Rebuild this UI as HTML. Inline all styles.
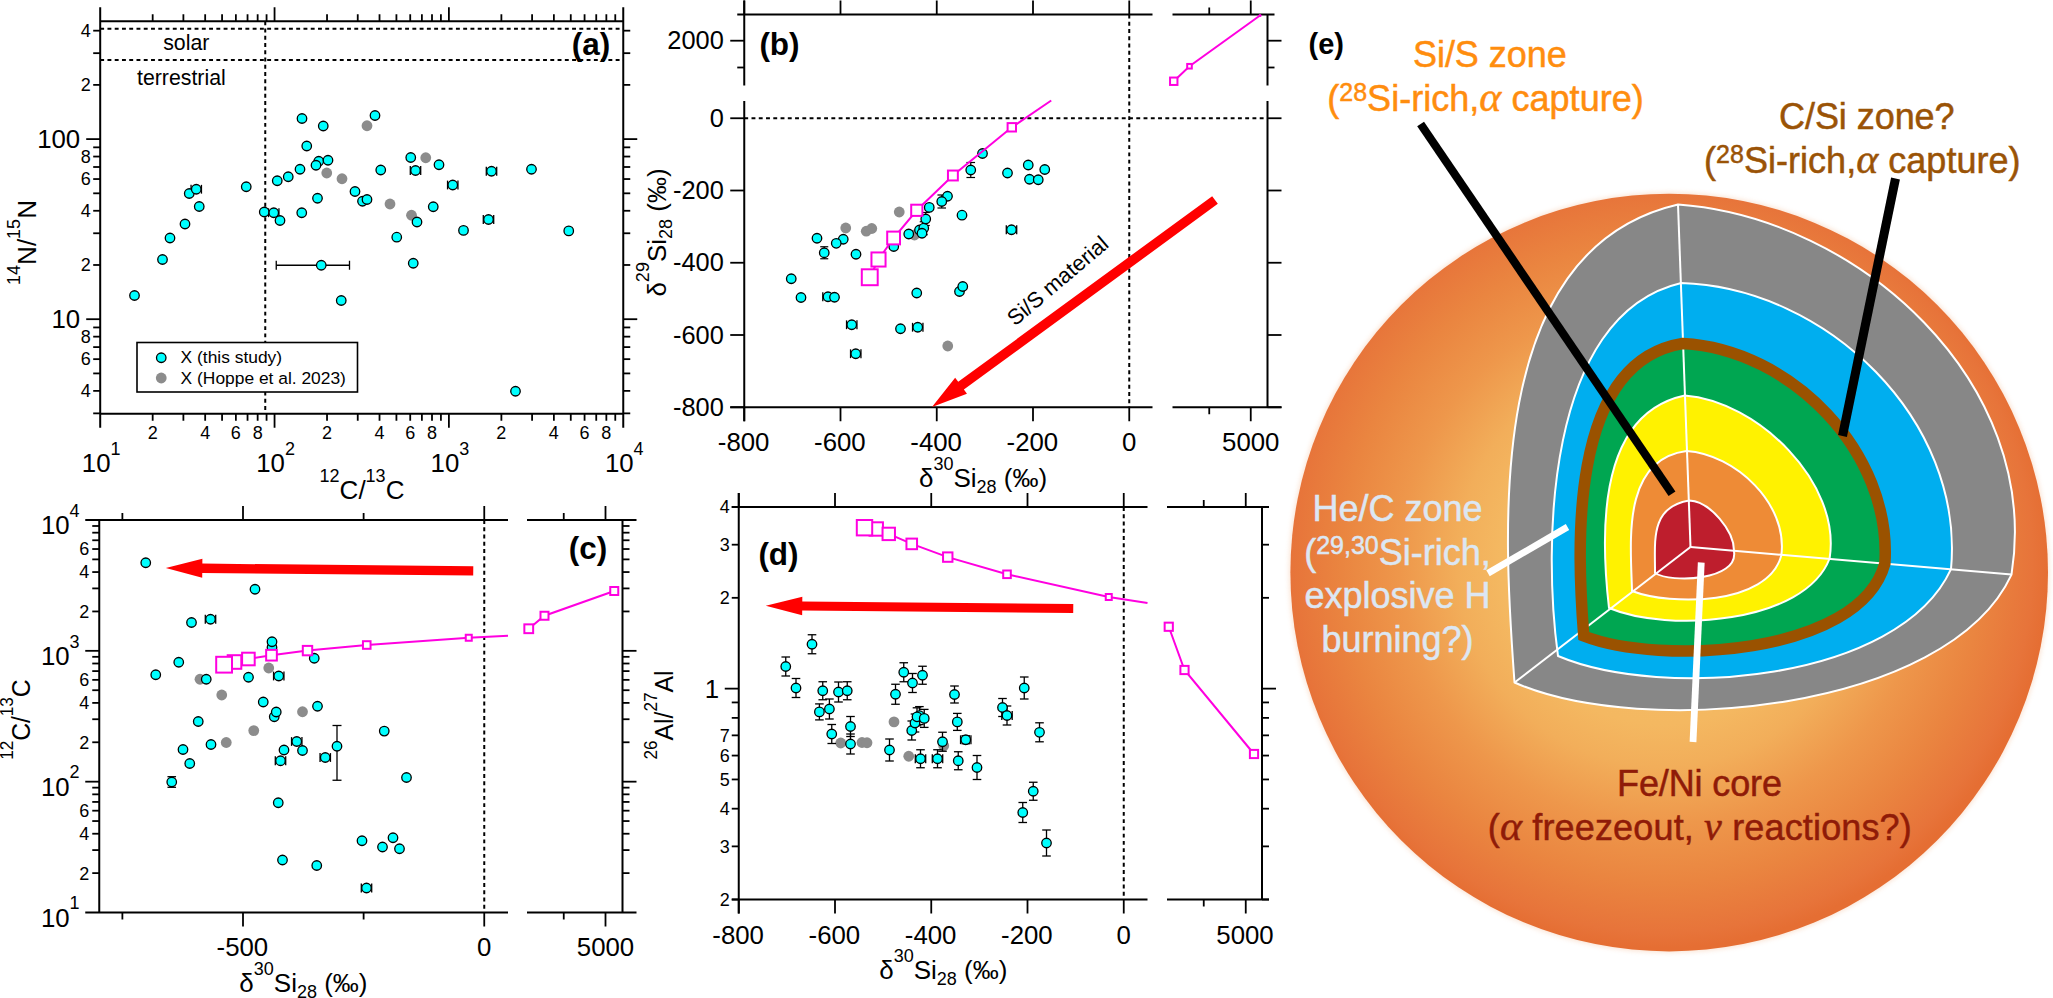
<!DOCTYPE html>
<html lang="en"><head><meta charset="utf-8"><title>Figure</title>
<style>html,body{margin:0;padding:0;background:#fff}svg{display:block}</style></head>
<body>
<svg width="2053" height="998" viewBox="0 0 2053 998" font-family='"Liberation Sans", Arial, Helvetica, sans-serif' shape-rendering="geometricPrecision">
<rect width="2053" height="998" fill="#fff"/>
<line x1="100.2" y1="28.75" x2="623.25" y2="28.75" stroke="#000" stroke-width="2" stroke-dasharray="3.9 3.36"/>
<line x1="100.2" y1="60" x2="623.25" y2="60" stroke="#000" stroke-width="2" stroke-dasharray="3.9 3.36"/>
<line x1="265.25" y1="21.25" x2="265.25" y2="413.75" stroke="#000" stroke-width="2" stroke-dasharray="3.9 3.36"/>
<line x1="100.2" y1="7.25" x2="100.2" y2="427.75" stroke="#000" stroke-width="2"/>
<line x1="623.25" y1="7.25" x2="623.25" y2="427.75" stroke="#000" stroke-width="2"/>
<line x1="100.2" y1="21.25" x2="623.25" y2="21.25" stroke="#000" stroke-width="2"/>
<line x1="100.2" y1="413.75" x2="623.25" y2="413.75" stroke="#000" stroke-width="2"/>
<line x1="152.68" y1="14.25" x2="152.68" y2="21.25" stroke="#000" stroke-width="1.8"/>
<line x1="152.68" y1="413.75" x2="152.68" y2="420.75" stroke="#000" stroke-width="1.8"/>
<text x="152.68" y="438.7" font-size="18" text-anchor="middle">2</text>
<line x1="183.39" y1="14.25" x2="183.39" y2="21.25" stroke="#000" stroke-width="1.8"/>
<line x1="183.39" y1="413.75" x2="183.39" y2="420.75" stroke="#000" stroke-width="1.8"/>
<line x1="205.17" y1="14.25" x2="205.17" y2="21.25" stroke="#000" stroke-width="1.8"/>
<line x1="205.17" y1="413.75" x2="205.17" y2="420.75" stroke="#000" stroke-width="1.8"/>
<text x="205.17" y="438.7" font-size="18" text-anchor="middle">4</text>
<line x1="222.07" y1="14.25" x2="222.07" y2="21.25" stroke="#000" stroke-width="1.8"/>
<line x1="222.07" y1="413.75" x2="222.07" y2="420.75" stroke="#000" stroke-width="1.8"/>
<line x1="235.87" y1="14.25" x2="235.87" y2="21.25" stroke="#000" stroke-width="1.8"/>
<line x1="235.87" y1="413.75" x2="235.87" y2="420.75" stroke="#000" stroke-width="1.8"/>
<text x="235.87" y="438.7" font-size="18" text-anchor="middle">6</text>
<line x1="247.54" y1="14.25" x2="247.54" y2="21.25" stroke="#000" stroke-width="1.8"/>
<line x1="247.54" y1="413.75" x2="247.54" y2="420.75" stroke="#000" stroke-width="1.8"/>
<line x1="257.65" y1="14.25" x2="257.65" y2="21.25" stroke="#000" stroke-width="1.8"/>
<line x1="257.65" y1="413.75" x2="257.65" y2="420.75" stroke="#000" stroke-width="1.8"/>
<text x="257.65" y="438.7" font-size="18" text-anchor="middle">8</text>
<line x1="266.57" y1="14.25" x2="266.57" y2="21.25" stroke="#000" stroke-width="1.8"/>
<line x1="266.57" y1="413.75" x2="266.57" y2="420.75" stroke="#000" stroke-width="1.8"/>
<line x1="274.55" y1="7.25" x2="274.55" y2="21.25" stroke="#000" stroke-width="1.8"/>
<line x1="274.55" y1="413.75" x2="274.55" y2="427.75" stroke="#000" stroke-width="1.8"/>
<line x1="327.03" y1="14.25" x2="327.03" y2="21.25" stroke="#000" stroke-width="1.8"/>
<line x1="327.03" y1="413.75" x2="327.03" y2="420.75" stroke="#000" stroke-width="1.8"/>
<text x="327.03" y="438.7" font-size="18" text-anchor="middle">2</text>
<line x1="357.74" y1="14.25" x2="357.74" y2="21.25" stroke="#000" stroke-width="1.8"/>
<line x1="357.74" y1="413.75" x2="357.74" y2="420.75" stroke="#000" stroke-width="1.8"/>
<line x1="379.52" y1="14.25" x2="379.52" y2="21.25" stroke="#000" stroke-width="1.8"/>
<line x1="379.52" y1="413.75" x2="379.52" y2="420.75" stroke="#000" stroke-width="1.8"/>
<text x="379.52" y="438.7" font-size="18" text-anchor="middle">4</text>
<line x1="396.42" y1="14.25" x2="396.42" y2="21.25" stroke="#000" stroke-width="1.8"/>
<line x1="396.42" y1="413.75" x2="396.42" y2="420.75" stroke="#000" stroke-width="1.8"/>
<line x1="410.22" y1="14.25" x2="410.22" y2="21.25" stroke="#000" stroke-width="1.8"/>
<line x1="410.22" y1="413.75" x2="410.22" y2="420.75" stroke="#000" stroke-width="1.8"/>
<text x="410.22" y="438.7" font-size="18" text-anchor="middle">6</text>
<line x1="421.89" y1="14.25" x2="421.89" y2="21.25" stroke="#000" stroke-width="1.8"/>
<line x1="421.89" y1="413.75" x2="421.89" y2="420.75" stroke="#000" stroke-width="1.8"/>
<line x1="432" y1="14.25" x2="432" y2="21.25" stroke="#000" stroke-width="1.8"/>
<line x1="432" y1="413.75" x2="432" y2="420.75" stroke="#000" stroke-width="1.8"/>
<text x="432" y="438.7" font-size="18" text-anchor="middle">8</text>
<line x1="440.92" y1="14.25" x2="440.92" y2="21.25" stroke="#000" stroke-width="1.8"/>
<line x1="440.92" y1="413.75" x2="440.92" y2="420.75" stroke="#000" stroke-width="1.8"/>
<line x1="448.9" y1="7.25" x2="448.9" y2="21.25" stroke="#000" stroke-width="1.8"/>
<line x1="448.9" y1="413.75" x2="448.9" y2="427.75" stroke="#000" stroke-width="1.8"/>
<line x1="501.38" y1="14.25" x2="501.38" y2="21.25" stroke="#000" stroke-width="1.8"/>
<line x1="501.38" y1="413.75" x2="501.38" y2="420.75" stroke="#000" stroke-width="1.8"/>
<text x="501.38" y="438.7" font-size="18" text-anchor="middle">2</text>
<line x1="532.09" y1="14.25" x2="532.09" y2="21.25" stroke="#000" stroke-width="1.8"/>
<line x1="532.09" y1="413.75" x2="532.09" y2="420.75" stroke="#000" stroke-width="1.8"/>
<line x1="553.87" y1="14.25" x2="553.87" y2="21.25" stroke="#000" stroke-width="1.8"/>
<line x1="553.87" y1="413.75" x2="553.87" y2="420.75" stroke="#000" stroke-width="1.8"/>
<text x="553.87" y="438.7" font-size="18" text-anchor="middle">4</text>
<line x1="570.77" y1="14.25" x2="570.77" y2="21.25" stroke="#000" stroke-width="1.8"/>
<line x1="570.77" y1="413.75" x2="570.77" y2="420.75" stroke="#000" stroke-width="1.8"/>
<line x1="584.57" y1="14.25" x2="584.57" y2="21.25" stroke="#000" stroke-width="1.8"/>
<line x1="584.57" y1="413.75" x2="584.57" y2="420.75" stroke="#000" stroke-width="1.8"/>
<text x="584.57" y="438.7" font-size="18" text-anchor="middle">6</text>
<line x1="596.24" y1="14.25" x2="596.24" y2="21.25" stroke="#000" stroke-width="1.8"/>
<line x1="596.24" y1="413.75" x2="596.24" y2="420.75" stroke="#000" stroke-width="1.8"/>
<line x1="606.35" y1="14.25" x2="606.35" y2="21.25" stroke="#000" stroke-width="1.8"/>
<line x1="606.35" y1="413.75" x2="606.35" y2="420.75" stroke="#000" stroke-width="1.8"/>
<text x="606.35" y="438.7" font-size="18" text-anchor="middle">8</text>
<line x1="615.27" y1="14.25" x2="615.27" y2="21.25" stroke="#000" stroke-width="1.8"/>
<line x1="615.27" y1="413.75" x2="615.27" y2="420.75" stroke="#000" stroke-width="1.8"/>
<text x="101.2" y="471.8" font-size="25.8" text-anchor="middle">10<tspan font-size="18" dy="-17.2">1</tspan><tspan dy="17.2" font-size="0.1">&#8203;</tspan></text>
<text x="275.55" y="471.8" font-size="25.8" text-anchor="middle">10<tspan font-size="18" dy="-17.2">2</tspan><tspan dy="17.2" font-size="0.1">&#8203;</tspan></text>
<text x="449.9" y="471.8" font-size="25.8" text-anchor="middle">10<tspan font-size="18" dy="-17.2">3</tspan><tspan dy="17.2" font-size="0.1">&#8203;</tspan></text>
<text x="624.25" y="471.8" font-size="25.8" text-anchor="middle">10<tspan font-size="18" dy="-17.2">4</tspan><tspan dy="17.2" font-size="0.1">&#8203;</tspan></text>
<line x1="93.2" y1="413.37" x2="100.2" y2="413.37" stroke="#000" stroke-width="1.8"/>
<line x1="623.25" y1="413.37" x2="630.25" y2="413.37" stroke="#000" stroke-width="1.8"/>
<line x1="93.2" y1="390.87" x2="100.2" y2="390.87" stroke="#000" stroke-width="1.8"/>
<line x1="623.25" y1="390.87" x2="630.25" y2="390.87" stroke="#000" stroke-width="1.8"/>
<text x="90.8" y="397.07" font-size="18" text-anchor="end">4</text>
<line x1="93.2" y1="373.42" x2="100.2" y2="373.42" stroke="#000" stroke-width="1.8"/>
<line x1="623.25" y1="373.42" x2="630.25" y2="373.42" stroke="#000" stroke-width="1.8"/>
<line x1="93.2" y1="359.15" x2="100.2" y2="359.15" stroke="#000" stroke-width="1.8"/>
<line x1="623.25" y1="359.15" x2="630.25" y2="359.15" stroke="#000" stroke-width="1.8"/>
<text x="90.8" y="365.35" font-size="18" text-anchor="end">6</text>
<line x1="93.2" y1="347.1" x2="100.2" y2="347.1" stroke="#000" stroke-width="1.8"/>
<line x1="623.25" y1="347.1" x2="630.25" y2="347.1" stroke="#000" stroke-width="1.8"/>
<line x1="93.2" y1="336.65" x2="100.2" y2="336.65" stroke="#000" stroke-width="1.8"/>
<line x1="623.25" y1="336.65" x2="630.25" y2="336.65" stroke="#000" stroke-width="1.8"/>
<text x="90.8" y="342.85" font-size="18" text-anchor="end">8</text>
<line x1="93.2" y1="327.44" x2="100.2" y2="327.44" stroke="#000" stroke-width="1.8"/>
<line x1="623.25" y1="327.44" x2="630.25" y2="327.44" stroke="#000" stroke-width="1.8"/>
<line x1="86.2" y1="319.2" x2="100.2" y2="319.2" stroke="#000" stroke-width="1.8"/>
<line x1="623.25" y1="319.2" x2="637.25" y2="319.2" stroke="#000" stroke-width="1.8"/>
<text x="80.2" y="327.9" font-size="25.8" text-anchor="end">10</text>
<line x1="93.2" y1="264.98" x2="100.2" y2="264.98" stroke="#000" stroke-width="1.8"/>
<line x1="623.25" y1="264.98" x2="630.25" y2="264.98" stroke="#000" stroke-width="1.8"/>
<text x="90.8" y="271.18" font-size="18" text-anchor="end">2</text>
<line x1="93.2" y1="233.27" x2="100.2" y2="233.27" stroke="#000" stroke-width="1.8"/>
<line x1="623.25" y1="233.27" x2="630.25" y2="233.27" stroke="#000" stroke-width="1.8"/>
<line x1="93.2" y1="210.77" x2="100.2" y2="210.77" stroke="#000" stroke-width="1.8"/>
<line x1="623.25" y1="210.77" x2="630.25" y2="210.77" stroke="#000" stroke-width="1.8"/>
<text x="90.8" y="216.97" font-size="18" text-anchor="end">4</text>
<line x1="93.2" y1="193.32" x2="100.2" y2="193.32" stroke="#000" stroke-width="1.8"/>
<line x1="623.25" y1="193.32" x2="630.25" y2="193.32" stroke="#000" stroke-width="1.8"/>
<line x1="93.2" y1="179.05" x2="100.2" y2="179.05" stroke="#000" stroke-width="1.8"/>
<line x1="623.25" y1="179.05" x2="630.25" y2="179.05" stroke="#000" stroke-width="1.8"/>
<text x="90.8" y="185.25" font-size="18" text-anchor="end">6</text>
<line x1="93.2" y1="167" x2="100.2" y2="167" stroke="#000" stroke-width="1.8"/>
<line x1="623.25" y1="167" x2="630.25" y2="167" stroke="#000" stroke-width="1.8"/>
<line x1="93.2" y1="156.55" x2="100.2" y2="156.55" stroke="#000" stroke-width="1.8"/>
<line x1="623.25" y1="156.55" x2="630.25" y2="156.55" stroke="#000" stroke-width="1.8"/>
<text x="90.8" y="162.75" font-size="18" text-anchor="end">8</text>
<line x1="93.2" y1="147.34" x2="100.2" y2="147.34" stroke="#000" stroke-width="1.8"/>
<line x1="623.25" y1="147.34" x2="630.25" y2="147.34" stroke="#000" stroke-width="1.8"/>
<line x1="86.2" y1="139.1" x2="100.2" y2="139.1" stroke="#000" stroke-width="1.8"/>
<line x1="623.25" y1="139.1" x2="637.25" y2="139.1" stroke="#000" stroke-width="1.8"/>
<text x="80.2" y="147.8" font-size="25.8" text-anchor="end">100</text>
<line x1="93.2" y1="84.88" x2="100.2" y2="84.88" stroke="#000" stroke-width="1.8"/>
<line x1="623.25" y1="84.88" x2="630.25" y2="84.88" stroke="#000" stroke-width="1.8"/>
<text x="90.8" y="91.08" font-size="18" text-anchor="end">2</text>
<line x1="93.2" y1="53.17" x2="100.2" y2="53.17" stroke="#000" stroke-width="1.8"/>
<line x1="623.25" y1="53.17" x2="630.25" y2="53.17" stroke="#000" stroke-width="1.8"/>
<line x1="93.2" y1="30.67" x2="100.2" y2="30.67" stroke="#000" stroke-width="1.8"/>
<line x1="623.25" y1="30.67" x2="630.25" y2="30.67" stroke="#000" stroke-width="1.8"/>
<text x="90.8" y="36.87" font-size="18" text-anchor="end">4</text>
<text x="36" y="242.5" font-size="26" text-anchor="middle" transform="rotate(-90 36 242.5)"><tspan font-size="18" dy="-16.5">14</tspan><tspan dy="16.5" font-size="0.1">&#8203;</tspan>N/<tspan font-size="18" dy="-16.5">15</tspan><tspan dy="16.5" font-size="0.1">&#8203;</tspan>N</text>
<text x="362" y="499" font-size="26" text-anchor="middle"><tspan font-size="18" dy="-17">12</tspan><tspan dy="17" font-size="0.1">&#8203;</tspan>C/<tspan font-size="18" dy="-17">13</tspan><tspan dy="17" font-size="0.1">&#8203;</tspan>C</text>
<text x="186.3" y="49.8" font-size="21.3" text-anchor="middle">solar</text>
<text x="181.4" y="85" font-size="21.3" text-anchor="middle">terrestrial</text>
<text x="591" y="55.2" font-size="31.5" text-anchor="middle" font-weight="bold">(a)</text>
<circle cx="367" cy="125.75" r="5.4" fill="#8C8C8C"/>
<circle cx="425.75" cy="157.75" r="5.4" fill="#8C8C8C"/>
<circle cx="326.75" cy="173" r="5.4" fill="#8C8C8C"/>
<circle cx="342" cy="178.75" r="5.4" fill="#8C8C8C"/>
<circle cx="390" cy="204" r="5.4" fill="#8C8C8C"/>
<circle cx="411.5" cy="215.25" r="5.4" fill="#8C8C8C"/>
<line x1="276.25" y1="265.25" x2="349.5" y2="265.25" stroke="#000" stroke-width="1.3"/>
<line x1="276.25" y1="260.75" x2="276.25" y2="269.75" stroke="#000" stroke-width="1.3"/>
<line x1="349.5" y1="260.75" x2="349.5" y2="269.75" stroke="#000" stroke-width="1.3"/>
<line x1="191.05" y1="189.25" x2="201.45" y2="189.25" stroke="#000" stroke-width="1.3"/>
<line x1="191.05" y1="184.85" x2="191.05" y2="193.65" stroke="#000" stroke-width="1.3"/>
<line x1="201.45" y1="184.85" x2="201.45" y2="193.65" stroke="#000" stroke-width="1.3"/>
<line x1="268.55" y1="212.75" x2="278.95" y2="212.75" stroke="#000" stroke-width="1.3"/>
<line x1="268.55" y1="208.35" x2="268.55" y2="217.15" stroke="#000" stroke-width="1.3"/>
<line x1="278.95" y1="208.35" x2="278.95" y2="217.15" stroke="#000" stroke-width="1.3"/>
<line x1="410.3" y1="170.5" x2="420.7" y2="170.5" stroke="#000" stroke-width="1.3"/>
<line x1="410.3" y1="166.1" x2="410.3" y2="174.9" stroke="#000" stroke-width="1.3"/>
<line x1="420.7" y1="166.1" x2="420.7" y2="174.9" stroke="#000" stroke-width="1.3"/>
<line x1="447.55" y1="185" x2="457.95" y2="185" stroke="#000" stroke-width="1.3"/>
<line x1="447.55" y1="180.6" x2="447.55" y2="189.4" stroke="#000" stroke-width="1.3"/>
<line x1="457.95" y1="180.6" x2="457.95" y2="189.4" stroke="#000" stroke-width="1.3"/>
<line x1="483.3" y1="219.5" x2="493.7" y2="219.5" stroke="#000" stroke-width="1.3"/>
<line x1="483.3" y1="215.1" x2="483.3" y2="223.9" stroke="#000" stroke-width="1.3"/>
<line x1="493.7" y1="215.1" x2="493.7" y2="223.9" stroke="#000" stroke-width="1.3"/>
<line x1="486.3" y1="171.25" x2="496.7" y2="171.25" stroke="#000" stroke-width="1.3"/>
<line x1="486.3" y1="166.85" x2="486.3" y2="175.65" stroke="#000" stroke-width="1.3"/>
<line x1="496.7" y1="166.85" x2="496.7" y2="175.65" stroke="#000" stroke-width="1.3"/>
<circle cx="170" cy="238" r="4.75" fill="#00FFFF" stroke="#000" stroke-width="1.3"/>
<circle cx="185" cy="224" r="4.75" fill="#00FFFF" stroke="#000" stroke-width="1.3"/>
<circle cx="199.25" cy="206.5" r="4.75" fill="#00FFFF" stroke="#000" stroke-width="1.3"/>
<circle cx="189.25" cy="193.5" r="4.75" fill="#00FFFF" stroke="#000" stroke-width="1.3"/>
<circle cx="196.25" cy="189.25" r="4.75" fill="#00FFFF" stroke="#000" stroke-width="1.3"/>
<circle cx="246.25" cy="186.75" r="4.75" fill="#00FFFF" stroke="#000" stroke-width="1.3"/>
<circle cx="264.25" cy="212" r="4.75" fill="#00FFFF" stroke="#000" stroke-width="1.3"/>
<circle cx="273.75" cy="212.75" r="4.75" fill="#00FFFF" stroke="#000" stroke-width="1.3"/>
<circle cx="280" cy="220.5" r="4.75" fill="#00FFFF" stroke="#000" stroke-width="1.3"/>
<circle cx="277.25" cy="180.75" r="4.75" fill="#00FFFF" stroke="#000" stroke-width="1.3"/>
<circle cx="288.25" cy="176.75" r="4.75" fill="#00FFFF" stroke="#000" stroke-width="1.3"/>
<circle cx="300" cy="169.25" r="4.75" fill="#00FFFF" stroke="#000" stroke-width="1.3"/>
<circle cx="301.75" cy="212.75" r="4.75" fill="#00FFFF" stroke="#000" stroke-width="1.3"/>
<circle cx="317.5" cy="198.25" r="4.75" fill="#00FFFF" stroke="#000" stroke-width="1.3"/>
<circle cx="318.75" cy="161.25" r="4.75" fill="#00FFFF" stroke="#000" stroke-width="1.3"/>
<circle cx="316" cy="165.25" r="4.75" fill="#00FFFF" stroke="#000" stroke-width="1.3"/>
<circle cx="328" cy="160.25" r="4.75" fill="#00FFFF" stroke="#000" stroke-width="1.3"/>
<circle cx="306.75" cy="146" r="4.75" fill="#00FFFF" stroke="#000" stroke-width="1.3"/>
<circle cx="302" cy="118.5" r="4.75" fill="#00FFFF" stroke="#000" stroke-width="1.3"/>
<circle cx="323.25" cy="126" r="4.75" fill="#00FFFF" stroke="#000" stroke-width="1.3"/>
<circle cx="375" cy="115.5" r="4.75" fill="#00FFFF" stroke="#000" stroke-width="1.3"/>
<circle cx="380.75" cy="170" r="4.75" fill="#00FFFF" stroke="#000" stroke-width="1.3"/>
<circle cx="355" cy="191.5" r="4.75" fill="#00FFFF" stroke="#000" stroke-width="1.3"/>
<circle cx="362.5" cy="201.25" r="4.75" fill="#00FFFF" stroke="#000" stroke-width="1.3"/>
<circle cx="367" cy="199.5" r="4.75" fill="#00FFFF" stroke="#000" stroke-width="1.3"/>
<circle cx="410.75" cy="157.5" r="4.75" fill="#00FFFF" stroke="#000" stroke-width="1.3"/>
<circle cx="415.5" cy="170.5" r="4.75" fill="#00FFFF" stroke="#000" stroke-width="1.3"/>
<circle cx="439" cy="164.75" r="4.75" fill="#00FFFF" stroke="#000" stroke-width="1.3"/>
<circle cx="433.25" cy="206.75" r="4.75" fill="#00FFFF" stroke="#000" stroke-width="1.3"/>
<circle cx="417" cy="222" r="4.75" fill="#00FFFF" stroke="#000" stroke-width="1.3"/>
<circle cx="396.75" cy="237.2" r="4.75" fill="#00FFFF" stroke="#000" stroke-width="1.3"/>
<circle cx="452.75" cy="185" r="4.75" fill="#00FFFF" stroke="#000" stroke-width="1.3"/>
<circle cx="463.5" cy="230.4" r="4.75" fill="#00FFFF" stroke="#000" stroke-width="1.3"/>
<circle cx="488.5" cy="219.5" r="4.75" fill="#00FFFF" stroke="#000" stroke-width="1.3"/>
<circle cx="491.5" cy="171.25" r="4.75" fill="#00FFFF" stroke="#000" stroke-width="1.3"/>
<circle cx="531.5" cy="169.25" r="4.75" fill="#00FFFF" stroke="#000" stroke-width="1.3"/>
<circle cx="568.75" cy="230.9" r="4.75" fill="#00FFFF" stroke="#000" stroke-width="1.3"/>
<circle cx="134.5" cy="295.5" r="4.75" fill="#00FFFF" stroke="#000" stroke-width="1.3"/>
<circle cx="162.5" cy="259.5" r="4.75" fill="#00FFFF" stroke="#000" stroke-width="1.3"/>
<circle cx="321.25" cy="265.25" r="4.75" fill="#00FFFF" stroke="#000" stroke-width="1.3"/>
<circle cx="341.25" cy="300.5" r="4.75" fill="#00FFFF" stroke="#000" stroke-width="1.3"/>
<circle cx="413.25" cy="263.25" r="4.75" fill="#00FFFF" stroke="#000" stroke-width="1.3"/>
<circle cx="515.5" cy="391.25" r="4.75" fill="#00FFFF" stroke="#000" stroke-width="1.3"/>
<rect x="137" y="342.5" width="220.5" height="49.5" fill="#fff" stroke="#000" stroke-width="1.6"/>
<circle cx="161.25" cy="357.75" r="4.75" fill="#00FFFF" stroke="#000" stroke-width="1.3"/>
<circle cx="161.25" cy="378" r="5.4" fill="#8C8C8C"/>
<text x="180.6" y="363.4" font-size="17.4">X (this study)</text>
<text x="180.6" y="383.9" font-size="17.4">X (Hoppe et al. 2023)</text>
<line x1="744.25" y1="118.25" x2="1267.5" y2="118.25" stroke="#000" stroke-width="2" stroke-dasharray="3.9 3.36"/>
<line x1="1129.25" y1="14.5" x2="1129.25" y2="407.25" stroke="#000" stroke-width="2" stroke-dasharray="3.9 3.36"/>
<line x1="744.25" y1="0.5" x2="744.25" y2="85.5" stroke="#000" stroke-width="2"/>
<line x1="744.25" y1="101" x2="744.25" y2="421.25" stroke="#000" stroke-width="2"/>
<line x1="1267.5" y1="14.5" x2="1267.5" y2="85.5" stroke="#000" stroke-width="2"/>
<line x1="1267.5" y1="101" x2="1267.5" y2="407.25" stroke="#000" stroke-width="2"/>
<line x1="737.25" y1="14.5" x2="1152.5" y2="14.5" stroke="#000" stroke-width="2"/>
<line x1="1172.5" y1="14.5" x2="1274.5" y2="14.5" stroke="#000" stroke-width="2"/>
<line x1="730.25" y1="407.25" x2="1152.5" y2="407.25" stroke="#000" stroke-width="2"/>
<line x1="1172.5" y1="407.25" x2="1281.5" y2="407.25" stroke="#000" stroke-width="2"/>
<line x1="744.25" y1="0.5" x2="744.25" y2="14.5" stroke="#000" stroke-width="1.8"/>
<line x1="744.25" y1="407.25" x2="744.25" y2="421.25" stroke="#000" stroke-width="1.8"/>
<text x="743.65" y="450.9" font-size="25.8" text-anchor="middle">-800</text>
<line x1="840.5" y1="0.5" x2="840.5" y2="14.5" stroke="#000" stroke-width="1.8"/>
<line x1="840.5" y1="407.25" x2="840.5" y2="421.25" stroke="#000" stroke-width="1.8"/>
<text x="839.9" y="450.9" font-size="25.8" text-anchor="middle">-600</text>
<line x1="936.75" y1="0.5" x2="936.75" y2="14.5" stroke="#000" stroke-width="1.8"/>
<line x1="936.75" y1="407.25" x2="936.75" y2="421.25" stroke="#000" stroke-width="1.8"/>
<text x="936.15" y="450.9" font-size="25.8" text-anchor="middle">-400</text>
<line x1="1033" y1="0.5" x2="1033" y2="14.5" stroke="#000" stroke-width="1.8"/>
<line x1="1033" y1="407.25" x2="1033" y2="421.25" stroke="#000" stroke-width="1.8"/>
<text x="1032.4" y="450.9" font-size="25.8" text-anchor="middle">-200</text>
<line x1="1129.25" y1="0.5" x2="1129.25" y2="14.5" stroke="#000" stroke-width="1.8"/>
<line x1="1129.25" y1="407.25" x2="1129.25" y2="421.25" stroke="#000" stroke-width="1.8"/>
<text x="1129.25" y="450.9" font-size="25.8" text-anchor="middle">0</text>
<line x1="1209.25" y1="7.5" x2="1209.25" y2="14.5" stroke="#000" stroke-width="1.8"/>
<line x1="1209.25" y1="407.25" x2="1209.25" y2="414.25" stroke="#000" stroke-width="1.8"/>
<line x1="1250.75" y1="0.5" x2="1250.75" y2="14.5" stroke="#000" stroke-width="1.8"/>
<line x1="1250.75" y1="407.25" x2="1250.75" y2="421.25" stroke="#000" stroke-width="1.8"/>
<text x="1250.75" y="450.9" font-size="25.8" text-anchor="middle">5000</text>
<line x1="730.25" y1="40.7" x2="744.25" y2="40.7" stroke="#000" stroke-width="1.8"/>
<line x1="1267.5" y1="40.7" x2="1281.5" y2="40.7" stroke="#000" stroke-width="1.8"/>
<text x="723.8" y="49.3" font-size="25.4" text-anchor="end">2000</text>
<line x1="737.25" y1="67.5" x2="744.25" y2="67.5" stroke="#000" stroke-width="1.8"/>
<line x1="1267.5" y1="67.5" x2="1274.5" y2="67.5" stroke="#000" stroke-width="1.8"/>
<line x1="730.25" y1="118.25" x2="744.25" y2="118.25" stroke="#000" stroke-width="1.8"/>
<line x1="1267.5" y1="118.25" x2="1281.5" y2="118.25" stroke="#000" stroke-width="1.8"/>
<text x="723.8" y="126.85" font-size="25.4" text-anchor="end">0</text>
<line x1="730.25" y1="190.5" x2="744.25" y2="190.5" stroke="#000" stroke-width="1.8"/>
<line x1="1267.5" y1="190.5" x2="1281.5" y2="190.5" stroke="#000" stroke-width="1.8"/>
<text x="723.8" y="199.1" font-size="25.4" text-anchor="end">-200</text>
<line x1="730.25" y1="262.75" x2="744.25" y2="262.75" stroke="#000" stroke-width="1.8"/>
<line x1="1267.5" y1="262.75" x2="1281.5" y2="262.75" stroke="#000" stroke-width="1.8"/>
<text x="723.8" y="271.35" font-size="25.4" text-anchor="end">-400</text>
<line x1="730.25" y1="335" x2="744.25" y2="335" stroke="#000" stroke-width="1.8"/>
<line x1="1267.5" y1="335" x2="1281.5" y2="335" stroke="#000" stroke-width="1.8"/>
<text x="723.8" y="343.6" font-size="25.4" text-anchor="end">-600</text>
<line x1="730.25" y1="407.25" x2="744.25" y2="407.25" stroke="#000" stroke-width="1.8"/>
<line x1="1267.5" y1="407.25" x2="1281.5" y2="407.25" stroke="#000" stroke-width="1.8"/>
<text x="723.8" y="415.85" font-size="25.4" text-anchor="end">-800</text>
<text x="983" y="487" font-size="26" text-anchor="middle">&#948;<tspan font-size="18" dy="-17">30</tspan><tspan dy="17" font-size="0.1">&#8203;</tspan>Si<tspan font-size="18" dy="5.5">28</tspan><tspan dy="-5.5" font-size="0.1">&#8203;</tspan> (&#8240;)</text>
<text x="666" y="232.5" font-size="26" text-anchor="middle" transform="rotate(-90 666 232.5)">&#948;<tspan font-size="18" dy="-17">29</tspan><tspan dy="17" font-size="0.1">&#8203;</tspan>Si<tspan font-size="18" dy="5.5">28</tspan><tspan dy="-5.5" font-size="0.1">&#8203;</tspan> (&#8240;)</text>
<text x="779.5" y="55.2" font-size="31.5" text-anchor="middle" font-weight="bold">(b)</text>
<polygon points="1212.17,196.13 958.22,381.87 955.15,377.68 932,407 966.96,393.82 963.89,389.62 1217.83,203.87" fill="#FF0000"/>
<text x="1062.5" y="286.5" font-size="22" text-anchor="middle" transform="rotate(-40.3 1062.5 286.5)">Si/S material</text>
<circle cx="899.25" cy="212" r="5.4" fill="#8C8C8C"/>
<circle cx="845.75" cy="228" r="5.4" fill="#8C8C8C"/>
<circle cx="866.25" cy="231.2" r="5.4" fill="#8C8C8C"/>
<circle cx="871.75" cy="228.5" r="5.4" fill="#8C8C8C"/>
<circle cx="914.5" cy="235" r="5.4" fill="#8C8C8C"/>
<circle cx="947.75" cy="346" r="5.4" fill="#8C8C8C"/>
<line x1="970.75" y1="162.5" x2="970.75" y2="177.5" stroke="#000" stroke-width="1.2"/>
<line x1="966.45" y1="162.5" x2="975.05" y2="162.5" stroke="#000" stroke-width="1.2"/>
<line x1="966.45" y1="177.5" x2="975.05" y2="177.5" stroke="#000" stroke-width="1.2"/>
<line x1="941.75" y1="195" x2="941.75" y2="208" stroke="#000" stroke-width="1.2"/>
<line x1="937.45" y1="195" x2="946.05" y2="195" stroke="#000" stroke-width="1.2"/>
<line x1="937.45" y1="208" x2="946.05" y2="208" stroke="#000" stroke-width="1.2"/>
<line x1="925.75" y1="212.5" x2="925.75" y2="225.5" stroke="#000" stroke-width="1.2"/>
<line x1="921.75" y1="212.5" x2="929.75" y2="212.5" stroke="#000" stroke-width="1.2"/>
<line x1="921.75" y1="225.5" x2="929.75" y2="225.5" stroke="#000" stroke-width="1.2"/>
<line x1="923.75" y1="221.75" x2="923.75" y2="234.75" stroke="#000" stroke-width="1.2"/>
<line x1="919.75" y1="221.75" x2="927.75" y2="221.75" stroke="#000" stroke-width="1.2"/>
<line x1="919.75" y1="234.75" x2="927.75" y2="234.75" stroke="#000" stroke-width="1.2"/>
<line x1="824.25" y1="246.75" x2="824.25" y2="258.75" stroke="#000" stroke-width="1.2"/>
<line x1="820.25" y1="246.75" x2="828.25" y2="246.75" stroke="#000" stroke-width="1.2"/>
<line x1="820.25" y1="258.75" x2="828.25" y2="258.75" stroke="#000" stroke-width="1.2"/>
<line x1="1006.3" y1="229.75" x2="1016.7" y2="229.75" stroke="#000" stroke-width="1.3"/>
<line x1="1006.3" y1="225.35" x2="1006.3" y2="234.15" stroke="#000" stroke-width="1.3"/>
<line x1="1016.7" y1="225.35" x2="1016.7" y2="234.15" stroke="#000" stroke-width="1.3"/>
<line x1="822.8" y1="296.75" x2="833.2" y2="296.75" stroke="#000" stroke-width="1.3"/>
<line x1="822.8" y1="292.35" x2="822.8" y2="301.15" stroke="#000" stroke-width="1.3"/>
<line x1="833.2" y1="292.35" x2="833.2" y2="301.15" stroke="#000" stroke-width="1.3"/>
<line x1="850.55" y1="353.75" x2="860.95" y2="353.75" stroke="#000" stroke-width="1.3"/>
<line x1="850.55" y1="349.35" x2="850.55" y2="358.15" stroke="#000" stroke-width="1.3"/>
<line x1="860.95" y1="349.35" x2="860.95" y2="358.15" stroke="#000" stroke-width="1.3"/>
<line x1="846.55" y1="324.75" x2="856.95" y2="324.75" stroke="#000" stroke-width="1.3"/>
<line x1="846.55" y1="320.35" x2="846.55" y2="329.15" stroke="#000" stroke-width="1.3"/>
<line x1="856.95" y1="320.35" x2="856.95" y2="329.15" stroke="#000" stroke-width="1.3"/>
<line x1="912.55" y1="327.25" x2="922.95" y2="327.25" stroke="#000" stroke-width="1.3"/>
<line x1="912.55" y1="322.85" x2="912.55" y2="331.65" stroke="#000" stroke-width="1.3"/>
<line x1="922.95" y1="322.85" x2="922.95" y2="331.65" stroke="#000" stroke-width="1.3"/>
<circle cx="893.75" cy="246.5" r="4.75" fill="#00FFFF" stroke="#000" stroke-width="1.3"/>
<circle cx="982.5" cy="153.5" r="4.75" fill="#00FFFF" stroke="#000" stroke-width="1.3"/>
<circle cx="970.75" cy="170" r="4.75" fill="#00FFFF" stroke="#000" stroke-width="1.3"/>
<circle cx="1007.5" cy="173" r="4.75" fill="#00FFFF" stroke="#000" stroke-width="1.3"/>
<circle cx="1028.25" cy="165" r="4.75" fill="#00FFFF" stroke="#000" stroke-width="1.3"/>
<circle cx="1029.5" cy="179.25" r="4.75" fill="#00FFFF" stroke="#000" stroke-width="1.3"/>
<circle cx="1038.25" cy="179.75" r="4.75" fill="#00FFFF" stroke="#000" stroke-width="1.3"/>
<circle cx="1044.75" cy="169.5" r="4.75" fill="#00FFFF" stroke="#000" stroke-width="1.3"/>
<circle cx="947.5" cy="196.25" r="4.75" fill="#00FFFF" stroke="#000" stroke-width="1.3"/>
<circle cx="941.75" cy="201.5" r="4.75" fill="#00FFFF" stroke="#000" stroke-width="1.3"/>
<circle cx="962" cy="215.2" r="4.75" fill="#00FFFF" stroke="#000" stroke-width="1.3"/>
<circle cx="908.75" cy="234" r="4.75" fill="#00FFFF" stroke="#000" stroke-width="1.3"/>
<circle cx="919.5" cy="230" r="4.75" fill="#00FFFF" stroke="#000" stroke-width="1.3"/>
<circle cx="923.75" cy="228.2" r="4.75" fill="#00FFFF" stroke="#000" stroke-width="1.3"/>
<circle cx="922" cy="233.25" r="4.75" fill="#00FFFF" stroke="#000" stroke-width="1.3"/>
<circle cx="925.75" cy="219" r="4.75" fill="#00FFFF" stroke="#000" stroke-width="1.3"/>
<circle cx="929.25" cy="207.4" r="4.75" fill="#00FFFF" stroke="#000" stroke-width="1.3"/>
<circle cx="1011.5" cy="229.75" r="4.75" fill="#00FFFF" stroke="#000" stroke-width="1.3"/>
<circle cx="843.25" cy="239.25" r="4.75" fill="#00FFFF" stroke="#000" stroke-width="1.3"/>
<circle cx="836.25" cy="243.3" r="4.75" fill="#00FFFF" stroke="#000" stroke-width="1.3"/>
<circle cx="817" cy="238.25" r="4.75" fill="#00FFFF" stroke="#000" stroke-width="1.3"/>
<circle cx="824.25" cy="252.75" r="4.75" fill="#00FFFF" stroke="#000" stroke-width="1.3"/>
<circle cx="856" cy="254.25" r="4.75" fill="#00FFFF" stroke="#000" stroke-width="1.3"/>
<circle cx="791.25" cy="278.75" r="4.75" fill="#00FFFF" stroke="#000" stroke-width="1.3"/>
<circle cx="801" cy="297.5" r="4.75" fill="#00FFFF" stroke="#000" stroke-width="1.3"/>
<circle cx="828" cy="296.75" r="4.75" fill="#00FFFF" stroke="#000" stroke-width="1.3"/>
<circle cx="834.5" cy="297.25" r="4.75" fill="#00FFFF" stroke="#000" stroke-width="1.3"/>
<circle cx="916.75" cy="293" r="4.75" fill="#00FFFF" stroke="#000" stroke-width="1.3"/>
<circle cx="959.5" cy="291.5" r="4.75" fill="#00FFFF" stroke="#000" stroke-width="1.3"/>
<circle cx="962.75" cy="286.5" r="4.75" fill="#00FFFF" stroke="#000" stroke-width="1.3"/>
<circle cx="851.75" cy="324.75" r="4.75" fill="#00FFFF" stroke="#000" stroke-width="1.3"/>
<circle cx="900.5" cy="328.75" r="4.75" fill="#00FFFF" stroke="#000" stroke-width="1.3"/>
<circle cx="917.75" cy="327.25" r="4.75" fill="#00FFFF" stroke="#000" stroke-width="1.3"/>
<circle cx="855.75" cy="353.75" r="4.75" fill="#00FFFF" stroke="#000" stroke-width="1.3"/>
<polyline points="869.75,277.25 878.5,259.5 893.6,238 916.8,210.3 952.9,175.5 1011.8,127.3 1051.25,100.5" fill="none" stroke="#FF00E0" stroke-width="2"/>
<polyline points="1173.75,81.25 1189.5,66.25 1260,15.5" fill="none" stroke="#FF00E0" stroke-width="2"/>
<circle cx="1260" cy="15.5" r="1.6" fill="#FF00E0"/>
<rect x="861.8" y="269.3" width="15.9" height="15.9" fill="#fff" stroke="#FF00E0" stroke-width="2"/>
<rect x="871.45" y="252.45" width="14.1" height="14.1" fill="#fff" stroke="#FF00E0" stroke-width="2"/>
<rect x="887.2" y="231.6" width="12.8" height="12.8" fill="#fff" stroke="#FF00E0" stroke-width="2"/>
<rect x="911.2" y="204.7" width="11.2" height="11.2" fill="#fff" stroke="#FF00E0" stroke-width="2"/>
<rect x="947.95" y="170.55" width="9.9" height="9.9" fill="#fff" stroke="#FF00E0" stroke-width="2"/>
<rect x="1007.6" y="123.1" width="8.4" height="8.4" fill="#fff" stroke="#FF00E0" stroke-width="2"/>
<rect x="1170.05" y="77.55" width="7.4" height="7.4" fill="#fff" stroke="#FF00E0" stroke-width="2"/>
<rect x="1187.2" y="63.95" width="4.6" height="4.6" fill="#fff" stroke="#FF00E0" stroke-width="2"/>
<line x1="484.25" y1="520" x2="484.25" y2="912.5" stroke="#000" stroke-width="2" stroke-dasharray="3.9 3.36"/>
<line x1="99.25" y1="520" x2="99.25" y2="912.5" stroke="#000" stroke-width="2"/>
<line x1="622.5" y1="520" x2="622.5" y2="912.5" stroke="#000" stroke-width="2"/>
<line x1="85.25" y1="520" x2="508" y2="520" stroke="#000" stroke-width="2"/>
<line x1="527" y1="520" x2="636.5" y2="520" stroke="#000" stroke-width="2"/>
<line x1="85.25" y1="912.5" x2="508" y2="912.5" stroke="#000" stroke-width="2"/>
<line x1="527" y1="912.5" x2="636.5" y2="912.5" stroke="#000" stroke-width="2"/>
<line x1="122.38" y1="513" x2="122.38" y2="520" stroke="#000" stroke-width="1.8"/>
<line x1="122.38" y1="912.5" x2="122.38" y2="919.5" stroke="#000" stroke-width="1.8"/>
<line x1="243" y1="506" x2="243" y2="520" stroke="#000" stroke-width="1.8"/>
<line x1="243" y1="912.5" x2="243" y2="926.5" stroke="#000" stroke-width="1.8"/>
<line x1="363.62" y1="513" x2="363.62" y2="520" stroke="#000" stroke-width="1.8"/>
<line x1="363.62" y1="912.5" x2="363.62" y2="919.5" stroke="#000" stroke-width="1.8"/>
<line x1="484.25" y1="506" x2="484.25" y2="520" stroke="#000" stroke-width="1.8"/>
<line x1="484.25" y1="912.5" x2="484.25" y2="926.5" stroke="#000" stroke-width="1.8"/>
<line x1="563.75" y1="513" x2="563.75" y2="520" stroke="#000" stroke-width="1.8"/>
<line x1="563.75" y1="912.5" x2="563.75" y2="919.5" stroke="#000" stroke-width="1.8"/>
<line x1="605.5" y1="506" x2="605.5" y2="520" stroke="#000" stroke-width="1.8"/>
<line x1="605.5" y1="912.5" x2="605.5" y2="926.5" stroke="#000" stroke-width="1.8"/>
<text x="242.4" y="956" font-size="25.8" text-anchor="middle">-500</text>
<text x="484.25" y="956" font-size="25.8" text-anchor="middle">0</text>
<text x="605.5" y="956" font-size="25.8" text-anchor="middle">5000</text>
<text x="79.6" y="926.5" font-size="25.8" text-anchor="end">10<tspan font-size="18" dy="-17.2">1</tspan><tspan dy="17.2" font-size="0.1">&#8203;</tspan></text>
<line x1="92.25" y1="873.12" x2="99.25" y2="873.12" stroke="#000" stroke-width="1.8"/>
<line x1="622.5" y1="873.12" x2="629.5" y2="873.12" stroke="#000" stroke-width="1.8"/>
<text x="89.35" y="879.52" font-size="18" text-anchor="end">2</text>
<line x1="92.25" y1="850.08" x2="99.25" y2="850.08" stroke="#000" stroke-width="1.8"/>
<line x1="622.5" y1="850.08" x2="629.5" y2="850.08" stroke="#000" stroke-width="1.8"/>
<line x1="92.25" y1="833.73" x2="99.25" y2="833.73" stroke="#000" stroke-width="1.8"/>
<line x1="622.5" y1="833.73" x2="629.5" y2="833.73" stroke="#000" stroke-width="1.8"/>
<text x="89.35" y="840.13" font-size="18" text-anchor="end">4</text>
<line x1="92.25" y1="821.05" x2="99.25" y2="821.05" stroke="#000" stroke-width="1.8"/>
<line x1="622.5" y1="821.05" x2="629.5" y2="821.05" stroke="#000" stroke-width="1.8"/>
<line x1="92.25" y1="810.69" x2="99.25" y2="810.69" stroke="#000" stroke-width="1.8"/>
<line x1="622.5" y1="810.69" x2="629.5" y2="810.69" stroke="#000" stroke-width="1.8"/>
<text x="89.35" y="817.09" font-size="18" text-anchor="end">6</text>
<line x1="92.25" y1="801.93" x2="99.25" y2="801.93" stroke="#000" stroke-width="1.8"/>
<line x1="622.5" y1="801.93" x2="629.5" y2="801.93" stroke="#000" stroke-width="1.8"/>
<line x1="92.25" y1="794.35" x2="99.25" y2="794.35" stroke="#000" stroke-width="1.8"/>
<line x1="622.5" y1="794.35" x2="629.5" y2="794.35" stroke="#000" stroke-width="1.8"/>
<line x1="92.25" y1="787.65" x2="99.25" y2="787.65" stroke="#000" stroke-width="1.8"/>
<line x1="622.5" y1="787.65" x2="629.5" y2="787.65" stroke="#000" stroke-width="1.8"/>
<line x1="85.25" y1="781.67" x2="99.25" y2="781.67" stroke="#000" stroke-width="1.8"/>
<line x1="622.5" y1="781.67" x2="636.5" y2="781.67" stroke="#000" stroke-width="1.8"/>
<text x="79.6" y="795.67" font-size="25.8" text-anchor="end">10<tspan font-size="18" dy="-17.2">2</tspan><tspan dy="17.2" font-size="0.1">&#8203;</tspan></text>
<line x1="92.25" y1="742.28" x2="99.25" y2="742.28" stroke="#000" stroke-width="1.8"/>
<line x1="622.5" y1="742.28" x2="629.5" y2="742.28" stroke="#000" stroke-width="1.8"/>
<text x="89.35" y="748.68" font-size="18" text-anchor="end">2</text>
<line x1="92.25" y1="719.24" x2="99.25" y2="719.24" stroke="#000" stroke-width="1.8"/>
<line x1="622.5" y1="719.24" x2="629.5" y2="719.24" stroke="#000" stroke-width="1.8"/>
<line x1="92.25" y1="702.9" x2="99.25" y2="702.9" stroke="#000" stroke-width="1.8"/>
<line x1="622.5" y1="702.9" x2="629.5" y2="702.9" stroke="#000" stroke-width="1.8"/>
<text x="89.35" y="709.3" font-size="18" text-anchor="end">4</text>
<line x1="92.25" y1="690.22" x2="99.25" y2="690.22" stroke="#000" stroke-width="1.8"/>
<line x1="622.5" y1="690.22" x2="629.5" y2="690.22" stroke="#000" stroke-width="1.8"/>
<line x1="92.25" y1="679.86" x2="99.25" y2="679.86" stroke="#000" stroke-width="1.8"/>
<line x1="622.5" y1="679.86" x2="629.5" y2="679.86" stroke="#000" stroke-width="1.8"/>
<text x="89.35" y="686.26" font-size="18" text-anchor="end">6</text>
<line x1="92.25" y1="671.1" x2="99.25" y2="671.1" stroke="#000" stroke-width="1.8"/>
<line x1="622.5" y1="671.1" x2="629.5" y2="671.1" stroke="#000" stroke-width="1.8"/>
<line x1="92.25" y1="663.51" x2="99.25" y2="663.51" stroke="#000" stroke-width="1.8"/>
<line x1="622.5" y1="663.51" x2="629.5" y2="663.51" stroke="#000" stroke-width="1.8"/>
<line x1="92.25" y1="656.82" x2="99.25" y2="656.82" stroke="#000" stroke-width="1.8"/>
<line x1="622.5" y1="656.82" x2="629.5" y2="656.82" stroke="#000" stroke-width="1.8"/>
<line x1="85.25" y1="650.83" x2="99.25" y2="650.83" stroke="#000" stroke-width="1.8"/>
<line x1="622.5" y1="650.83" x2="636.5" y2="650.83" stroke="#000" stroke-width="1.8"/>
<text x="79.6" y="664.83" font-size="25.8" text-anchor="end">10<tspan font-size="18" dy="-17.2">3</tspan><tspan dy="17.2" font-size="0.1">&#8203;</tspan></text>
<line x1="92.25" y1="611.45" x2="99.25" y2="611.45" stroke="#000" stroke-width="1.8"/>
<line x1="622.5" y1="611.45" x2="629.5" y2="611.45" stroke="#000" stroke-width="1.8"/>
<text x="89.35" y="617.85" font-size="18" text-anchor="end">2</text>
<line x1="92.25" y1="588.41" x2="99.25" y2="588.41" stroke="#000" stroke-width="1.8"/>
<line x1="622.5" y1="588.41" x2="629.5" y2="588.41" stroke="#000" stroke-width="1.8"/>
<line x1="92.25" y1="572.06" x2="99.25" y2="572.06" stroke="#000" stroke-width="1.8"/>
<line x1="622.5" y1="572.06" x2="629.5" y2="572.06" stroke="#000" stroke-width="1.8"/>
<text x="89.35" y="578.46" font-size="18" text-anchor="end">4</text>
<line x1="92.25" y1="559.38" x2="99.25" y2="559.38" stroke="#000" stroke-width="1.8"/>
<line x1="622.5" y1="559.38" x2="629.5" y2="559.38" stroke="#000" stroke-width="1.8"/>
<line x1="92.25" y1="549.03" x2="99.25" y2="549.03" stroke="#000" stroke-width="1.8"/>
<line x1="622.5" y1="549.03" x2="629.5" y2="549.03" stroke="#000" stroke-width="1.8"/>
<text x="89.35" y="555.43" font-size="18" text-anchor="end">6</text>
<line x1="92.25" y1="540.27" x2="99.25" y2="540.27" stroke="#000" stroke-width="1.8"/>
<line x1="622.5" y1="540.27" x2="629.5" y2="540.27" stroke="#000" stroke-width="1.8"/>
<line x1="92.25" y1="532.68" x2="99.25" y2="532.68" stroke="#000" stroke-width="1.8"/>
<line x1="622.5" y1="532.68" x2="629.5" y2="532.68" stroke="#000" stroke-width="1.8"/>
<line x1="92.25" y1="525.99" x2="99.25" y2="525.99" stroke="#000" stroke-width="1.8"/>
<line x1="622.5" y1="525.99" x2="629.5" y2="525.99" stroke="#000" stroke-width="1.8"/>
<text x="79.6" y="534" font-size="25.8" text-anchor="end">10<tspan font-size="18" dy="-17.2">4</tspan><tspan dy="17.2" font-size="0.1">&#8203;</tspan></text>
<text x="29.6" y="719.6" font-size="26" text-anchor="middle" transform="rotate(-90 29.6 719.6)" textLength="80.5" lengthAdjust="spacingAndGlyphs"><tspan font-size="18" dy="-16.5">12</tspan><tspan dy="16.5" font-size="0.1">&#8203;</tspan>C/<tspan font-size="18" dy="-16.5">13</tspan><tspan dy="16.5" font-size="0.1">&#8203;</tspan>C</text>
<text x="303.4" y="992.4" font-size="26" text-anchor="middle">&#948;<tspan font-size="18" dy="-17">30</tspan><tspan dy="17" font-size="0.1">&#8203;</tspan>Si<tspan font-size="18" dy="5.5">28</tspan><tspan dy="-5.5" font-size="0.1">&#8203;</tspan> (&#8240;)</text>
<text x="588" y="559.2" font-size="31.5" text-anchor="middle" font-weight="bold">(c)</text>
<polygon points="473.3,566.25 202.34,563.61 202.39,558.76 165.8,567.9 202.21,577.76 202.25,572.91 473.2,575.55" fill="#FF0000"/>
<circle cx="200" cy="679.25" r="5.4" fill="#8C8C8C"/>
<circle cx="268.75" cy="668" r="5.4" fill="#8C8C8C"/>
<circle cx="221.75" cy="695" r="5.4" fill="#8C8C8C"/>
<circle cx="302.5" cy="711.75" r="5.4" fill="#8C8C8C"/>
<circle cx="253.75" cy="730.6" r="5.4" fill="#8C8C8C"/>
<circle cx="226.25" cy="742.5" r="5.4" fill="#8C8C8C"/>
<line x1="337" y1="725.5" x2="337" y2="780.25" stroke="#000" stroke-width="1.3"/>
<line x1="332.5" y1="725.5" x2="341.5" y2="725.5" stroke="#000" stroke-width="1.3"/>
<line x1="332.5" y1="780.25" x2="341.5" y2="780.25" stroke="#000" stroke-width="1.3"/>
<line x1="171.75" y1="776.7" x2="171.75" y2="787.3" stroke="#000" stroke-width="1.3"/>
<line x1="167.45" y1="776.7" x2="176.05" y2="776.7" stroke="#000" stroke-width="1.3"/>
<line x1="167.45" y1="787.3" x2="176.05" y2="787.3" stroke="#000" stroke-width="1.3"/>
<line x1="205.3" y1="619.25" x2="215.7" y2="619.25" stroke="#000" stroke-width="1.3"/>
<line x1="205.3" y1="614.85" x2="205.3" y2="623.65" stroke="#000" stroke-width="1.3"/>
<line x1="215.7" y1="614.85" x2="215.7" y2="623.65" stroke="#000" stroke-width="1.3"/>
<line x1="273.55" y1="676" x2="283.95" y2="676" stroke="#000" stroke-width="1.3"/>
<line x1="273.55" y1="671.6" x2="273.55" y2="680.4" stroke="#000" stroke-width="1.3"/>
<line x1="283.95" y1="671.6" x2="283.95" y2="680.4" stroke="#000" stroke-width="1.3"/>
<line x1="291.55" y1="741.5" x2="301.95" y2="741.5" stroke="#000" stroke-width="1.3"/>
<line x1="291.55" y1="737.1" x2="291.55" y2="745.9" stroke="#000" stroke-width="1.3"/>
<line x1="301.95" y1="737.1" x2="301.95" y2="745.9" stroke="#000" stroke-width="1.3"/>
<line x1="320.05" y1="757.5" x2="330.45" y2="757.5" stroke="#000" stroke-width="1.3"/>
<line x1="320.05" y1="753.1" x2="320.05" y2="761.9" stroke="#000" stroke-width="1.3"/>
<line x1="330.45" y1="753.1" x2="330.45" y2="761.9" stroke="#000" stroke-width="1.3"/>
<line x1="275.3" y1="760.75" x2="285.7" y2="760.75" stroke="#000" stroke-width="1.3"/>
<line x1="275.3" y1="756.35" x2="275.3" y2="765.15" stroke="#000" stroke-width="1.3"/>
<line x1="285.7" y1="756.35" x2="285.7" y2="765.15" stroke="#000" stroke-width="1.3"/>
<line x1="361.3" y1="888" x2="371.7" y2="888" stroke="#000" stroke-width="1.3"/>
<line x1="361.3" y1="883.6" x2="361.3" y2="892.4" stroke="#000" stroke-width="1.3"/>
<line x1="371.7" y1="883.6" x2="371.7" y2="892.4" stroke="#000" stroke-width="1.3"/>
<circle cx="145.75" cy="562.75" r="4.75" fill="#00FFFF" stroke="#000" stroke-width="1.3"/>
<circle cx="255" cy="589.25" r="4.75" fill="#00FFFF" stroke="#000" stroke-width="1.3"/>
<circle cx="191.5" cy="622.5" r="4.75" fill="#00FFFF" stroke="#000" stroke-width="1.3"/>
<circle cx="210.5" cy="619.25" r="4.75" fill="#00FFFF" stroke="#000" stroke-width="1.3"/>
<circle cx="272" cy="647.5" r="4.75" fill="#00FFFF" stroke="#000" stroke-width="1.3"/>
<circle cx="272" cy="641.75" r="4.75" fill="#00FFFF" stroke="#000" stroke-width="1.3"/>
<circle cx="178.75" cy="662.25" r="4.75" fill="#00FFFF" stroke="#000" stroke-width="1.3"/>
<circle cx="155.75" cy="674.75" r="4.75" fill="#00FFFF" stroke="#000" stroke-width="1.3"/>
<circle cx="206.25" cy="679.25" r="4.75" fill="#00FFFF" stroke="#000" stroke-width="1.3"/>
<circle cx="248.5" cy="677.25" r="4.75" fill="#00FFFF" stroke="#000" stroke-width="1.3"/>
<circle cx="278.75" cy="676" r="4.75" fill="#00FFFF" stroke="#000" stroke-width="1.3"/>
<circle cx="314.25" cy="658.25" r="4.75" fill="#00FFFF" stroke="#000" stroke-width="1.3"/>
<circle cx="263.25" cy="702" r="4.75" fill="#00FFFF" stroke="#000" stroke-width="1.3"/>
<circle cx="317.5" cy="706.25" r="4.75" fill="#00FFFF" stroke="#000" stroke-width="1.3"/>
<circle cx="274.25" cy="716.75" r="4.75" fill="#00FFFF" stroke="#000" stroke-width="1.3"/>
<circle cx="276.25" cy="712" r="4.75" fill="#00FFFF" stroke="#000" stroke-width="1.3"/>
<circle cx="198.25" cy="721.5" r="4.75" fill="#00FFFF" stroke="#000" stroke-width="1.3"/>
<circle cx="384.25" cy="731.1" r="4.75" fill="#00FFFF" stroke="#000" stroke-width="1.3"/>
<circle cx="296.75" cy="741.5" r="4.75" fill="#00FFFF" stroke="#000" stroke-width="1.3"/>
<circle cx="337" cy="746.25" r="4.75" fill="#00FFFF" stroke="#000" stroke-width="1.3"/>
<circle cx="284" cy="750" r="4.75" fill="#00FFFF" stroke="#000" stroke-width="1.3"/>
<circle cx="302.5" cy="750.5" r="4.75" fill="#00FFFF" stroke="#000" stroke-width="1.3"/>
<circle cx="325.25" cy="757.5" r="4.75" fill="#00FFFF" stroke="#000" stroke-width="1.3"/>
<circle cx="280.5" cy="760.75" r="4.75" fill="#00FFFF" stroke="#000" stroke-width="1.3"/>
<circle cx="183" cy="749.5" r="4.75" fill="#00FFFF" stroke="#000" stroke-width="1.3"/>
<circle cx="211" cy="744.5" r="4.75" fill="#00FFFF" stroke="#000" stroke-width="1.3"/>
<circle cx="189.75" cy="763.5" r="4.75" fill="#00FFFF" stroke="#000" stroke-width="1.3"/>
<circle cx="171.75" cy="782" r="4.75" fill="#00FFFF" stroke="#000" stroke-width="1.3"/>
<circle cx="406.5" cy="777.5" r="4.75" fill="#00FFFF" stroke="#000" stroke-width="1.3"/>
<circle cx="278.25" cy="802.75" r="4.75" fill="#00FFFF" stroke="#000" stroke-width="1.3"/>
<circle cx="362" cy="840.75" r="4.75" fill="#00FFFF" stroke="#000" stroke-width="1.3"/>
<circle cx="393" cy="837.75" r="4.75" fill="#00FFFF" stroke="#000" stroke-width="1.3"/>
<circle cx="382.5" cy="847" r="4.75" fill="#00FFFF" stroke="#000" stroke-width="1.3"/>
<circle cx="399.5" cy="848.75" r="4.75" fill="#00FFFF" stroke="#000" stroke-width="1.3"/>
<circle cx="282.5" cy="860" r="4.75" fill="#00FFFF" stroke="#000" stroke-width="1.3"/>
<circle cx="316.75" cy="865.5" r="4.75" fill="#00FFFF" stroke="#000" stroke-width="1.3"/>
<circle cx="366.5" cy="888" r="4.75" fill="#00FFFF" stroke="#000" stroke-width="1.3"/>
<polyline points="224.1,664.7 234.5,662 248.4,659 271.5,655.2 307.5,650.6 366.75,645 468.75,637.75 508,635.75" fill="none" stroke="#FF00E0" stroke-width="2"/>
<polyline points="528.75,628.75 544.5,615.75 614.25,591" fill="none" stroke="#FF00E0" stroke-width="2"/>
<rect x="227.7" y="655.2" width="13.6" height="13.6" fill="#fff" stroke="#FF00E0" stroke-width="2"/>
<rect x="216.2" y="656.8" width="15.8" height="15.8" fill="#fff" stroke="#FF00E0" stroke-width="2"/>
<rect x="242.1" y="652.7" width="12.6" height="12.6" fill="#fff" stroke="#FF00E0" stroke-width="2"/>
<rect x="266.15" y="649.85" width="10.7" height="10.7" fill="#fff" stroke="#FF00E0" stroke-width="2"/>
<rect x="302.8" y="645.9" width="9.4" height="9.4" fill="#fff" stroke="#FF00E0" stroke-width="2"/>
<rect x="362.95" y="641.2" width="7.6" height="7.6" fill="#fff" stroke="#FF00E0" stroke-width="2"/>
<rect x="465.75" y="634.75" width="6" height="6" fill="#fff" stroke="#FF00E0" stroke-width="2"/>
<rect x="524.35" y="624.35" width="8.8" height="8.8" fill="#fff" stroke="#FF00E0" stroke-width="2"/>
<rect x="540.5" y="611.75" width="8" height="8" fill="#fff" stroke="#FF00E0" stroke-width="2"/>
<rect x="610.25" y="587" width="8" height="8" fill="#fff" stroke="#FF00E0" stroke-width="2"/>
<line x1="1123.75" y1="507" x2="1123.75" y2="899.5" stroke="#000" stroke-width="2" stroke-dasharray="3.9 3.36"/>
<line x1="738.75" y1="493" x2="738.75" y2="913.5" stroke="#000" stroke-width="2"/>
<line x1="1262" y1="507" x2="1262" y2="899.5" stroke="#000" stroke-width="2"/>
<line x1="731.75" y1="507" x2="1147.5" y2="507" stroke="#000" stroke-width="2"/>
<line x1="1167" y1="507" x2="1269" y2="507" stroke="#000" stroke-width="2"/>
<line x1="731.75" y1="899.5" x2="1147.5" y2="899.5" stroke="#000" stroke-width="2"/>
<line x1="1167" y1="899.5" x2="1269" y2="899.5" stroke="#000" stroke-width="2"/>
<line x1="738.75" y1="493" x2="738.75" y2="507" stroke="#000" stroke-width="1.8"/>
<line x1="738.75" y1="899.5" x2="738.75" y2="913.5" stroke="#000" stroke-width="1.8"/>
<text x="738.15" y="943.8" font-size="25.8" text-anchor="middle">-800</text>
<line x1="835" y1="493" x2="835" y2="507" stroke="#000" stroke-width="1.8"/>
<line x1="835" y1="899.5" x2="835" y2="913.5" stroke="#000" stroke-width="1.8"/>
<text x="834.4" y="943.8" font-size="25.8" text-anchor="middle">-600</text>
<line x1="931.25" y1="493" x2="931.25" y2="507" stroke="#000" stroke-width="1.8"/>
<line x1="931.25" y1="899.5" x2="931.25" y2="913.5" stroke="#000" stroke-width="1.8"/>
<text x="930.65" y="943.8" font-size="25.8" text-anchor="middle">-400</text>
<line x1="1027.5" y1="493" x2="1027.5" y2="507" stroke="#000" stroke-width="1.8"/>
<line x1="1027.5" y1="899.5" x2="1027.5" y2="913.5" stroke="#000" stroke-width="1.8"/>
<text x="1026.9" y="943.8" font-size="25.8" text-anchor="middle">-200</text>
<line x1="1123.75" y1="493" x2="1123.75" y2="507" stroke="#000" stroke-width="1.8"/>
<line x1="1123.75" y1="899.5" x2="1123.75" y2="913.5" stroke="#000" stroke-width="1.8"/>
<text x="1123.75" y="943.8" font-size="25.8" text-anchor="middle">0</text>
<line x1="1203.75" y1="500" x2="1203.75" y2="507" stroke="#000" stroke-width="1.8"/>
<line x1="1203.75" y1="899.5" x2="1203.75" y2="906.5" stroke="#000" stroke-width="1.8"/>
<line x1="1245.75" y1="493" x2="1245.75" y2="507" stroke="#000" stroke-width="1.8"/>
<line x1="1245.75" y1="899.5" x2="1245.75" y2="913.5" stroke="#000" stroke-width="1.8"/>
<text x="1245" y="943.8" font-size="25.8" text-anchor="middle">5000</text>
<line x1="731.75" y1="899.5" x2="738.75" y2="899.5" stroke="#000" stroke-width="1.8"/>
<line x1="1262" y1="899.5" x2="1269" y2="899.5" stroke="#000" stroke-width="1.8"/>
<text x="729.75" y="905.8" font-size="18" text-anchor="end">2</text>
<line x1="731.75" y1="846.38" x2="738.75" y2="846.38" stroke="#000" stroke-width="1.8"/>
<line x1="1262" y1="846.38" x2="1269" y2="846.38" stroke="#000" stroke-width="1.8"/>
<text x="729.75" y="852.68" font-size="18" text-anchor="end">3</text>
<line x1="731.75" y1="808.68" x2="738.75" y2="808.68" stroke="#000" stroke-width="1.8"/>
<line x1="1262" y1="808.68" x2="1269" y2="808.68" stroke="#000" stroke-width="1.8"/>
<text x="729.75" y="814.98" font-size="18" text-anchor="end">4</text>
<line x1="731.75" y1="779.45" x2="738.75" y2="779.45" stroke="#000" stroke-width="1.8"/>
<line x1="1262" y1="779.45" x2="1269" y2="779.45" stroke="#000" stroke-width="1.8"/>
<text x="729.75" y="785.75" font-size="18" text-anchor="end">5</text>
<line x1="731.75" y1="755.56" x2="738.75" y2="755.56" stroke="#000" stroke-width="1.8"/>
<line x1="1262" y1="755.56" x2="1269" y2="755.56" stroke="#000" stroke-width="1.8"/>
<text x="729.75" y="761.86" font-size="18" text-anchor="end">6</text>
<line x1="731.75" y1="735.36" x2="738.75" y2="735.36" stroke="#000" stroke-width="1.8"/>
<line x1="1262" y1="735.36" x2="1269" y2="735.36" stroke="#000" stroke-width="1.8"/>
<text x="729.75" y="741.66" font-size="18" text-anchor="end">7</text>
<line x1="731.75" y1="717.87" x2="738.75" y2="717.87" stroke="#000" stroke-width="1.8"/>
<line x1="1262" y1="717.87" x2="1269" y2="717.87" stroke="#000" stroke-width="1.8"/>
<line x1="731.75" y1="702.44" x2="738.75" y2="702.44" stroke="#000" stroke-width="1.8"/>
<line x1="1262" y1="702.44" x2="1269" y2="702.44" stroke="#000" stroke-width="1.8"/>
<line x1="724.75" y1="688.63" x2="738.75" y2="688.63" stroke="#000" stroke-width="1.8"/>
<line x1="1262" y1="688.63" x2="1276" y2="688.63" stroke="#000" stroke-width="1.8"/>
<text x="719" y="697.53" font-size="25.8" text-anchor="end">1</text>
<line x1="731.75" y1="597.82" x2="738.75" y2="597.82" stroke="#000" stroke-width="1.8"/>
<line x1="1262" y1="597.82" x2="1269" y2="597.82" stroke="#000" stroke-width="1.8"/>
<text x="729.75" y="604.12" font-size="18" text-anchor="end">2</text>
<line x1="731.75" y1="544.69" x2="738.75" y2="544.69" stroke="#000" stroke-width="1.8"/>
<line x1="1262" y1="544.69" x2="1269" y2="544.69" stroke="#000" stroke-width="1.8"/>
<text x="729.75" y="550.99" font-size="18" text-anchor="end">3</text>
<line x1="731.75" y1="507" x2="738.75" y2="507" stroke="#000" stroke-width="1.8"/>
<line x1="1262" y1="507" x2="1269" y2="507" stroke="#000" stroke-width="1.8"/>
<text x="729.75" y="513.3" font-size="18" text-anchor="end">4</text>
<text x="673.3" y="715" font-size="26" text-anchor="middle" transform="rotate(-90 673.3 715)" textLength="89" lengthAdjust="spacingAndGlyphs"><tspan font-size="18" dy="-16.5">26</tspan><tspan dy="16.5" font-size="0.1">&#8203;</tspan>Al/<tspan font-size="18" dy="-16.5">27</tspan><tspan dy="16.5" font-size="0.1">&#8203;</tspan>Al</text>
<text x="943.3" y="979" font-size="26" text-anchor="middle">&#948;<tspan font-size="18" dy="-17">30</tspan><tspan dy="17" font-size="0.1">&#8203;</tspan>Si<tspan font-size="18" dy="5.5">28</tspan><tspan dy="-5.5" font-size="0.1">&#8203;</tspan> (&#8240;)</text>
<text x="778.5" y="564.7" font-size="31.5" text-anchor="middle" font-weight="bold">(d)</text>
<polygon points="1073.29,604.1 802.29,601.59 802.33,596.84 765.75,605.75 802.16,615.34 802.21,610.59 1073.21,613.1" fill="#FF0000"/>
<circle cx="894" cy="721.9" r="5.4" fill="#8C8C8C"/>
<circle cx="840.75" cy="743" r="5.4" fill="#8C8C8C"/>
<circle cx="862" cy="742.5" r="5.4" fill="#8C8C8C"/>
<circle cx="867" cy="742.75" r="5.4" fill="#8C8C8C"/>
<circle cx="908.75" cy="756.25" r="5.4" fill="#8C8C8C"/>
<circle cx="943.75" cy="745.75" r="5.4" fill="#8C8C8C"/>
<line x1="812" y1="634.75" x2="812" y2="653.75" stroke="#000" stroke-width="1.3"/>
<line x1="807.7" y1="634.75" x2="816.3" y2="634.75" stroke="#000" stroke-width="1.3"/>
<line x1="807.7" y1="653.75" x2="816.3" y2="653.75" stroke="#000" stroke-width="1.3"/>
<line x1="785.75" y1="657" x2="785.75" y2="676" stroke="#000" stroke-width="1.3"/>
<line x1="781.45" y1="657" x2="790.05" y2="657" stroke="#000" stroke-width="1.3"/>
<line x1="781.45" y1="676" x2="790.05" y2="676" stroke="#000" stroke-width="1.3"/>
<line x1="796" y1="678.5" x2="796" y2="697.5" stroke="#000" stroke-width="1.3"/>
<line x1="791.7" y1="678.5" x2="800.3" y2="678.5" stroke="#000" stroke-width="1.3"/>
<line x1="791.7" y1="697.5" x2="800.3" y2="697.5" stroke="#000" stroke-width="1.3"/>
<line x1="822.75" y1="681.75" x2="822.75" y2="699.75" stroke="#000" stroke-width="1.3"/>
<line x1="818.45" y1="681.75" x2="827.05" y2="681.75" stroke="#000" stroke-width="1.3"/>
<line x1="818.45" y1="699.75" x2="827.05" y2="699.75" stroke="#000" stroke-width="1.3"/>
<line x1="838.5" y1="682" x2="838.5" y2="702" stroke="#000" stroke-width="1.3"/>
<line x1="834.2" y1="682" x2="842.8" y2="682" stroke="#000" stroke-width="1.3"/>
<line x1="834.2" y1="702" x2="842.8" y2="702" stroke="#000" stroke-width="1.3"/>
<line x1="847.25" y1="681.75" x2="847.25" y2="699.75" stroke="#000" stroke-width="1.3"/>
<line x1="842.95" y1="681.75" x2="851.55" y2="681.75" stroke="#000" stroke-width="1.3"/>
<line x1="842.95" y1="699.75" x2="851.55" y2="699.75" stroke="#000" stroke-width="1.3"/>
<line x1="819.4" y1="703.9" x2="819.4" y2="719.9" stroke="#000" stroke-width="1.3"/>
<line x1="815.1" y1="703.9" x2="823.7" y2="703.9" stroke="#000" stroke-width="1.3"/>
<line x1="815.1" y1="719.9" x2="823.7" y2="719.9" stroke="#000" stroke-width="1.3"/>
<line x1="829.4" y1="699" x2="829.4" y2="719" stroke="#000" stroke-width="1.3"/>
<line x1="825.1" y1="699" x2="833.7" y2="699" stroke="#000" stroke-width="1.3"/>
<line x1="825.1" y1="719" x2="833.7" y2="719" stroke="#000" stroke-width="1.3"/>
<line x1="850.5" y1="716.5" x2="850.5" y2="736.5" stroke="#000" stroke-width="1.3"/>
<line x1="846.2" y1="716.5" x2="854.8" y2="716.5" stroke="#000" stroke-width="1.3"/>
<line x1="846.2" y1="736.5" x2="854.8" y2="736.5" stroke="#000" stroke-width="1.3"/>
<line x1="895.5" y1="684.25" x2="895.5" y2="704.25" stroke="#000" stroke-width="1.3"/>
<line x1="891.2" y1="684.25" x2="899.8" y2="684.25" stroke="#000" stroke-width="1.3"/>
<line x1="891.2" y1="704.25" x2="899.8" y2="704.25" stroke="#000" stroke-width="1.3"/>
<line x1="903.75" y1="662.75" x2="903.75" y2="681.75" stroke="#000" stroke-width="1.3"/>
<line x1="899.45" y1="662.75" x2="908.05" y2="662.75" stroke="#000" stroke-width="1.3"/>
<line x1="899.45" y1="681.75" x2="908.05" y2="681.75" stroke="#000" stroke-width="1.3"/>
<line x1="912.5" y1="673.5" x2="912.5" y2="692.5" stroke="#000" stroke-width="1.3"/>
<line x1="908.2" y1="673.5" x2="916.8" y2="673.5" stroke="#000" stroke-width="1.3"/>
<line x1="908.2" y1="692.5" x2="916.8" y2="692.5" stroke="#000" stroke-width="1.3"/>
<line x1="922.5" y1="666.25" x2="922.5" y2="684.25" stroke="#000" stroke-width="1.3"/>
<line x1="918.2" y1="666.25" x2="926.8" y2="666.25" stroke="#000" stroke-width="1.3"/>
<line x1="918.2" y1="684.25" x2="926.8" y2="684.25" stroke="#000" stroke-width="1.3"/>
<line x1="954.5" y1="686" x2="954.5" y2="703" stroke="#000" stroke-width="1.3"/>
<line x1="950.2" y1="686" x2="958.8" y2="686" stroke="#000" stroke-width="1.3"/>
<line x1="950.2" y1="703" x2="958.8" y2="703" stroke="#000" stroke-width="1.3"/>
<line x1="1024.25" y1="677" x2="1024.25" y2="699" stroke="#000" stroke-width="1.3"/>
<line x1="1019.95" y1="677" x2="1028.55" y2="677" stroke="#000" stroke-width="1.3"/>
<line x1="1019.95" y1="699" x2="1028.55" y2="699" stroke="#000" stroke-width="1.3"/>
<line x1="1002.5" y1="698.5" x2="1002.5" y2="716.5" stroke="#000" stroke-width="1.3"/>
<line x1="998.2" y1="698.5" x2="1006.8" y2="698.5" stroke="#000" stroke-width="1.3"/>
<line x1="998.2" y1="716.5" x2="1006.8" y2="716.5" stroke="#000" stroke-width="1.3"/>
<line x1="1007" y1="706" x2="1007" y2="725" stroke="#000" stroke-width="1.3"/>
<line x1="1002.7" y1="706" x2="1011.3" y2="706" stroke="#000" stroke-width="1.3"/>
<line x1="1002.7" y1="725" x2="1011.3" y2="725" stroke="#000" stroke-width="1.3"/>
<line x1="957.3" y1="713.4" x2="957.3" y2="730.4" stroke="#000" stroke-width="1.3"/>
<line x1="953" y1="713.4" x2="961.6" y2="713.4" stroke="#000" stroke-width="1.3"/>
<line x1="953" y1="730.4" x2="961.6" y2="730.4" stroke="#000" stroke-width="1.3"/>
<line x1="911.75" y1="721" x2="911.75" y2="740" stroke="#000" stroke-width="1.3"/>
<line x1="907.45" y1="721" x2="916.05" y2="721" stroke="#000" stroke-width="1.3"/>
<line x1="907.45" y1="740" x2="916.05" y2="740" stroke="#000" stroke-width="1.3"/>
<line x1="915" y1="714" x2="915" y2="732" stroke="#000" stroke-width="1.3"/>
<line x1="910.7" y1="714" x2="919.3" y2="714" stroke="#000" stroke-width="1.3"/>
<line x1="910.7" y1="732" x2="919.3" y2="732" stroke="#000" stroke-width="1.3"/>
<line x1="919.4" y1="706.6" x2="919.4" y2="724.6" stroke="#000" stroke-width="1.3"/>
<line x1="915.1" y1="706.6" x2="923.7" y2="706.6" stroke="#000" stroke-width="1.3"/>
<line x1="915.1" y1="724.6" x2="923.7" y2="724.6" stroke="#000" stroke-width="1.3"/>
<line x1="917" y1="707.8" x2="917" y2="725.8" stroke="#000" stroke-width="1.3"/>
<line x1="912.7" y1="707.8" x2="921.3" y2="707.8" stroke="#000" stroke-width="1.3"/>
<line x1="912.7" y1="725.8" x2="921.3" y2="725.8" stroke="#000" stroke-width="1.3"/>
<line x1="924.25" y1="709.4" x2="924.25" y2="727.4" stroke="#000" stroke-width="1.3"/>
<line x1="919.95" y1="709.4" x2="928.55" y2="709.4" stroke="#000" stroke-width="1.3"/>
<line x1="919.95" y1="727.4" x2="928.55" y2="727.4" stroke="#000" stroke-width="1.3"/>
<line x1="1039.5" y1="722.8" x2="1039.5" y2="741.8" stroke="#000" stroke-width="1.3"/>
<line x1="1035.2" y1="722.8" x2="1043.8" y2="722.8" stroke="#000" stroke-width="1.3"/>
<line x1="1035.2" y1="741.8" x2="1043.8" y2="741.8" stroke="#000" stroke-width="1.3"/>
<line x1="831.75" y1="724.5" x2="831.75" y2="743.5" stroke="#000" stroke-width="1.3"/>
<line x1="827.45" y1="724.5" x2="836.05" y2="724.5" stroke="#000" stroke-width="1.3"/>
<line x1="827.45" y1="743.5" x2="836.05" y2="743.5" stroke="#000" stroke-width="1.3"/>
<line x1="850.5" y1="734" x2="850.5" y2="754" stroke="#000" stroke-width="1.3"/>
<line x1="846.2" y1="734" x2="854.8" y2="734" stroke="#000" stroke-width="1.3"/>
<line x1="846.2" y1="754" x2="854.8" y2="754" stroke="#000" stroke-width="1.3"/>
<line x1="889.5" y1="739" x2="889.5" y2="761" stroke="#000" stroke-width="1.3"/>
<line x1="885.2" y1="739" x2="893.8" y2="739" stroke="#000" stroke-width="1.3"/>
<line x1="885.2" y1="761" x2="893.8" y2="761" stroke="#000" stroke-width="1.3"/>
<line x1="920.5" y1="749.75" x2="920.5" y2="767.75" stroke="#000" stroke-width="1.3"/>
<line x1="916.2" y1="749.75" x2="924.8" y2="749.75" stroke="#000" stroke-width="1.3"/>
<line x1="916.2" y1="767.75" x2="924.8" y2="767.75" stroke="#000" stroke-width="1.3"/>
<line x1="937.5" y1="749.75" x2="937.5" y2="767.75" stroke="#000" stroke-width="1.3"/>
<line x1="933.2" y1="749.75" x2="941.8" y2="749.75" stroke="#000" stroke-width="1.3"/>
<line x1="933.2" y1="767.75" x2="941.8" y2="767.75" stroke="#000" stroke-width="1.3"/>
<line x1="942.5" y1="732.25" x2="942.5" y2="751.25" stroke="#000" stroke-width="1.3"/>
<line x1="938.2" y1="732.25" x2="946.8" y2="732.25" stroke="#000" stroke-width="1.3"/>
<line x1="938.2" y1="751.25" x2="946.8" y2="751.25" stroke="#000" stroke-width="1.3"/>
<line x1="965.75" y1="735.75" x2="965.75" y2="743.75" stroke="#000" stroke-width="1.3"/>
<line x1="961.45" y1="735.75" x2="970.05" y2="735.75" stroke="#000" stroke-width="1.3"/>
<line x1="961.45" y1="743.75" x2="970.05" y2="743.75" stroke="#000" stroke-width="1.3"/>
<line x1="958.25" y1="751.75" x2="958.25" y2="769.75" stroke="#000" stroke-width="1.3"/>
<line x1="953.95" y1="751.75" x2="962.55" y2="751.75" stroke="#000" stroke-width="1.3"/>
<line x1="953.95" y1="769.75" x2="962.55" y2="769.75" stroke="#000" stroke-width="1.3"/>
<line x1="977" y1="755.5" x2="977" y2="779.5" stroke="#000" stroke-width="1.3"/>
<line x1="972.7" y1="755.5" x2="981.3" y2="755.5" stroke="#000" stroke-width="1.3"/>
<line x1="972.7" y1="779.5" x2="981.3" y2="779.5" stroke="#000" stroke-width="1.3"/>
<line x1="1033.25" y1="782.25" x2="1033.25" y2="800.25" stroke="#000" stroke-width="1.3"/>
<line x1="1028.95" y1="782.25" x2="1037.55" y2="782.25" stroke="#000" stroke-width="1.3"/>
<line x1="1028.95" y1="800.25" x2="1037.55" y2="800.25" stroke="#000" stroke-width="1.3"/>
<line x1="1022.75" y1="802.5" x2="1022.75" y2="822.5" stroke="#000" stroke-width="1.3"/>
<line x1="1018.45" y1="802.5" x2="1027.05" y2="802.5" stroke="#000" stroke-width="1.3"/>
<line x1="1018.45" y1="822.5" x2="1027.05" y2="822.5" stroke="#000" stroke-width="1.3"/>
<line x1="1046.5" y1="830" x2="1046.5" y2="856" stroke="#000" stroke-width="1.3"/>
<line x1="1042.2" y1="830" x2="1050.8" y2="830" stroke="#000" stroke-width="1.3"/>
<line x1="1042.2" y1="856" x2="1050.8" y2="856" stroke="#000" stroke-width="1.3"/>
<line x1="915.3" y1="758.75" x2="925.7" y2="758.75" stroke="#000" stroke-width="1.3"/>
<line x1="915.3" y1="754.35" x2="915.3" y2="763.15" stroke="#000" stroke-width="1.3"/>
<line x1="925.7" y1="754.35" x2="925.7" y2="763.15" stroke="#000" stroke-width="1.3"/>
<line x1="932.3" y1="758.75" x2="942.7" y2="758.75" stroke="#000" stroke-width="1.3"/>
<line x1="932.3" y1="754.35" x2="932.3" y2="763.15" stroke="#000" stroke-width="1.3"/>
<line x1="942.7" y1="754.35" x2="942.7" y2="763.15" stroke="#000" stroke-width="1.3"/>
<line x1="960.55" y1="739.75" x2="970.95" y2="739.75" stroke="#000" stroke-width="1.3"/>
<line x1="960.55" y1="735.35" x2="960.55" y2="744.15" stroke="#000" stroke-width="1.3"/>
<line x1="970.95" y1="735.35" x2="970.95" y2="744.15" stroke="#000" stroke-width="1.3"/>
<line x1="1001.8" y1="715.5" x2="1012.2" y2="715.5" stroke="#000" stroke-width="1.3"/>
<line x1="1001.8" y1="711.1" x2="1001.8" y2="719.9" stroke="#000" stroke-width="1.3"/>
<line x1="1012.2" y1="711.1" x2="1012.2" y2="719.9" stroke="#000" stroke-width="1.3"/>
<circle cx="812" cy="644.25" r="4.75" fill="#00FFFF" stroke="#000" stroke-width="1.3"/>
<circle cx="785.75" cy="666.5" r="4.75" fill="#00FFFF" stroke="#000" stroke-width="1.3"/>
<circle cx="796" cy="688" r="4.75" fill="#00FFFF" stroke="#000" stroke-width="1.3"/>
<circle cx="822.75" cy="690.75" r="4.75" fill="#00FFFF" stroke="#000" stroke-width="1.3"/>
<circle cx="838.5" cy="692" r="4.75" fill="#00FFFF" stroke="#000" stroke-width="1.3"/>
<circle cx="847.25" cy="690.75" r="4.75" fill="#00FFFF" stroke="#000" stroke-width="1.3"/>
<circle cx="819.4" cy="711.9" r="4.75" fill="#00FFFF" stroke="#000" stroke-width="1.3"/>
<circle cx="829.4" cy="709" r="4.75" fill="#00FFFF" stroke="#000" stroke-width="1.3"/>
<circle cx="850.5" cy="726.5" r="4.75" fill="#00FFFF" stroke="#000" stroke-width="1.3"/>
<circle cx="895.5" cy="694.25" r="4.75" fill="#00FFFF" stroke="#000" stroke-width="1.3"/>
<circle cx="903.75" cy="672.25" r="4.75" fill="#00FFFF" stroke="#000" stroke-width="1.3"/>
<circle cx="912.5" cy="683" r="4.75" fill="#00FFFF" stroke="#000" stroke-width="1.3"/>
<circle cx="922.5" cy="675.25" r="4.75" fill="#00FFFF" stroke="#000" stroke-width="1.3"/>
<circle cx="954.5" cy="694.5" r="4.75" fill="#00FFFF" stroke="#000" stroke-width="1.3"/>
<circle cx="1024.25" cy="688" r="4.75" fill="#00FFFF" stroke="#000" stroke-width="1.3"/>
<circle cx="1002.5" cy="707.5" r="4.75" fill="#00FFFF" stroke="#000" stroke-width="1.3"/>
<circle cx="1007" cy="715.5" r="4.75" fill="#00FFFF" stroke="#000" stroke-width="1.3"/>
<circle cx="957.3" cy="721.9" r="4.75" fill="#00FFFF" stroke="#000" stroke-width="1.3"/>
<circle cx="911.75" cy="730.5" r="4.75" fill="#00FFFF" stroke="#000" stroke-width="1.3"/>
<circle cx="915" cy="723" r="4.75" fill="#00FFFF" stroke="#000" stroke-width="1.3"/>
<circle cx="919.4" cy="715.6" r="4.75" fill="#00FFFF" stroke="#000" stroke-width="1.3"/>
<circle cx="917" cy="716.8" r="4.75" fill="#00FFFF" stroke="#000" stroke-width="1.3"/>
<circle cx="924.25" cy="718.4" r="4.75" fill="#00FFFF" stroke="#000" stroke-width="1.3"/>
<circle cx="1039.5" cy="732.3" r="4.75" fill="#00FFFF" stroke="#000" stroke-width="1.3"/>
<circle cx="831.75" cy="734" r="4.75" fill="#00FFFF" stroke="#000" stroke-width="1.3"/>
<circle cx="850.5" cy="744" r="4.75" fill="#00FFFF" stroke="#000" stroke-width="1.3"/>
<circle cx="889.5" cy="750" r="4.75" fill="#00FFFF" stroke="#000" stroke-width="1.3"/>
<circle cx="920.5" cy="758.75" r="4.75" fill="#00FFFF" stroke="#000" stroke-width="1.3"/>
<circle cx="937.5" cy="758.75" r="4.75" fill="#00FFFF" stroke="#000" stroke-width="1.3"/>
<circle cx="942.5" cy="741.75" r="4.75" fill="#00FFFF" stroke="#000" stroke-width="1.3"/>
<circle cx="965.75" cy="739.75" r="4.75" fill="#00FFFF" stroke="#000" stroke-width="1.3"/>
<circle cx="958.25" cy="760.75" r="4.75" fill="#00FFFF" stroke="#000" stroke-width="1.3"/>
<circle cx="977" cy="767.5" r="4.75" fill="#00FFFF" stroke="#000" stroke-width="1.3"/>
<circle cx="1033.25" cy="791.25" r="4.75" fill="#00FFFF" stroke="#000" stroke-width="1.3"/>
<circle cx="1022.75" cy="812.5" r="4.75" fill="#00FFFF" stroke="#000" stroke-width="1.3"/>
<circle cx="1046.5" cy="843" r="4.75" fill="#00FFFF" stroke="#000" stroke-width="1.3"/>
<polyline points="864.5,527.7 876.25,529 888.75,533.9 911.75,543.9 947.75,557.1 1007,574.3 1108.75,597 1147.5,603" fill="none" stroke="#FF00E0" stroke-width="2"/>
<polyline points="1168.75,626.75 1184.5,670 1254,754" fill="none" stroke="#FF00E0" stroke-width="2"/>
<rect x="869.55" y="522.3" width="13.4" height="13.4" fill="#fff" stroke="#FF00E0" stroke-width="2"/>
<rect x="856.8" y="520" width="15.4" height="15.4" fill="#fff" stroke="#FF00E0" stroke-width="2"/>
<rect x="882.55" y="527.7" width="12.4" height="12.4" fill="#fff" stroke="#FF00E0" stroke-width="2"/>
<rect x="906.45" y="538.6" width="10.6" height="10.6" fill="#fff" stroke="#FF00E0" stroke-width="2"/>
<rect x="943.05" y="552.4" width="9.4" height="9.4" fill="#fff" stroke="#FF00E0" stroke-width="2"/>
<rect x="1003.2" y="570.5" width="7.6" height="7.6" fill="#fff" stroke="#FF00E0" stroke-width="2"/>
<rect x="1105.75" y="594" width="6" height="6" fill="#fff" stroke="#FF00E0" stroke-width="2"/>
<rect x="1164.65" y="622.65" width="8.2" height="8.2" fill="#fff" stroke="#FF00E0" stroke-width="2"/>
<rect x="1180.4" y="665.9" width="8.2" height="8.2" fill="#fff" stroke="#FF00E0" stroke-width="2"/>
<rect x="1249.9" y="749.9" width="8.2" height="8.2" fill="#fff" stroke="#FF00E0" stroke-width="2"/>
<defs><radialGradient id="sg" gradientUnits="userSpaceOnUse" cx="1662" cy="562" r="386"><stop offset="0" stop-color="#F6BE66"/><stop offset="0.42" stop-color="#F4B861"/><stop offset="0.53" stop-color="#F2AE5A"/><stop offset="0.68" stop-color="#EE974B"/><stop offset="0.83" stop-color="#EA8540"/><stop offset="0.96" stop-color="#E7743A"/><stop offset="1" stop-color="#E56E33"/></radialGradient></defs>
<defs><filter id="hb" x="-5%" y="-5%" width="110%" height="110%"><feGaussianBlur stdDeviation="2.6"/></filter></defs>
<circle cx="1669.2" cy="572.6" r="380" fill="#F3B58A" opacity="0.38" filter="url(#hb)"/>
<circle cx="1669.2" cy="572.6" r="378.8" fill="url(#sg)"/>
<path d="M1678,204.5 C1858.87,217.41 2042.13,382.91 2011.5,574.6 C1947.76,712 1642.02,738.74 1514.5,682.5 C1503.39,529.77 1483.31,249.61 1678,204.5Z" fill="#878787" stroke="#fff" stroke-width="2" stroke-linejoin="round"/>
<path d="M1681.25,283 C1826.45,287.31 1964.76,419.87 1951,569.2 C1898.85,682.25 1662.65,700.12 1558,656 C1543.09,547.64 1544.64,315 1681.25,283Z" fill="#00AEEF" stroke="#fff" stroke-width="2" stroke-linejoin="round"/>
<path d="M1682.8,343.5 C1791.6,349.21 1892.01,452.77 1884.9,563.5 C1859.36,656.17 1658.71,665.52 1583.75,636 C1577.42,554.1 1566.37,362.39 1682.8,343.5Z" fill="#00A651"/>
<path d="M1684.7,395.5 C1756.91,400.84 1841.68,482.01 1829.6,558.5 C1804.63,624.06 1667.43,632.68 1609,608 C1601.07,539.3 1594.67,414.85 1684.7,395.5Z" fill="#FFF200" stroke="#fff" stroke-width="2" stroke-linejoin="round"/>
<path d="M1686.5,451 C1735.18,454.23 1788.25,503.89 1781.3,555.5 C1767.83,605.64 1670.52,605.93 1632,591 C1630.91,543.98 1620.87,459.67 1686.5,451Z" fill="#EE8B36" stroke="#fff" stroke-width="2" stroke-linejoin="round"/>
<path d="M1689.2,500.5 C1709.98,501.26 1734.47,531.22 1734,551.4 C1738.45,580.6 1671.26,583.42 1655,573 C1655.29,542.52 1649.35,506.96 1689.2,500.5Z" fill="#BE1E2D" stroke="#fff" stroke-width="2" stroke-linejoin="round"/>
<line x1="1690.5" y1="547" x2="1678" y2="204.5" stroke="#fff" stroke-width="2"/>
<line x1="1690.5" y1="547" x2="2011.5" y2="574.6" stroke="#fff" stroke-width="2"/>
<line x1="1690.5" y1="547" x2="1514.5" y2="682.5" stroke="#fff" stroke-width="2"/>
<path d="M1682.8,343.5 C1791.6,349.21 1892.01,452.77 1884.9,563.5 C1859.36,656.17 1658.71,665.52 1583.75,636 C1577.42,554.1 1566.37,362.39 1682.8,343.5Z" fill="none" stroke="#9A5200" stroke-width="11.5" stroke-linejoin="miter"/>
<line x1="1420.6" y1="124" x2="1672" y2="493.75" stroke="#000" stroke-width="8.3"/>
<line x1="1895.5" y1="178.5" x2="1842.5" y2="436" stroke="#000" stroke-width="9"/>
<line x1="1567.5" y1="527" x2="1488" y2="573.3" stroke="#fff" stroke-width="6.8"/>
<line x1="1701.25" y1="562.5" x2="1693" y2="742" stroke="#fff" stroke-width="6.8"/>
<text x="1326.3" y="53.5" font-size="29" text-anchor="middle" font-weight="bold">(e)</text>
<text x="1413" y="66.7" font-size="36" fill="#FF8D0E" textLength="153.7" stroke="#FF8D0E" stroke-width="0.5">Si/S zone</text>
<text x="1327.2" y="111.4" font-size="36" fill="#FF8D0E" textLength="316.6" stroke="#FF8D0E" stroke-width="0.5">(<tspan font-size="25" dy="-10.5">28</tspan><tspan dy="10.5" font-size="0.1">&#8203;</tspan>Si-rich,<tspan font-family='"Liberation Serif", "DejaVu Serif", serif' font-style='italic' font-size='42'>&#945;</tspan> capture)</text>
<text x="1779" y="128.7" font-size="36" fill="#9A5306" textLength="175.6" stroke="#9A5306" stroke-width="0.5">C/Si zone?</text>
<text x="1704" y="173.3" font-size="36" fill="#9A5306" textLength="316.6" stroke="#9A5306" stroke-width="0.5">(<tspan font-size="25" dy="-10.5">28</tspan><tspan dy="10.5" font-size="0.1">&#8203;</tspan>Si-rich,<tspan font-family='"Liberation Serif", "DejaVu Serif", serif' font-style='italic' font-size='42'>&#945;</tspan> capture)</text>
<text x="1397.5" y="521.2" font-size="36" text-anchor="middle" fill="#DCE7F3" stroke="#DCE7F3" stroke-width="0.5">He/C zone</text>
<text x="1397.5" y="564.5" font-size="36" text-anchor="middle" fill="#DCE7F3" stroke="#DCE7F3" stroke-width="0.5">(<tspan font-size="25" dy="-10.5">29,30</tspan><tspan dy="10.5" font-size="0.1">&#8203;</tspan>Si-rich,</text>
<text x="1397.5" y="607.6" font-size="36" text-anchor="middle" fill="#DCE7F3" stroke="#DCE7F3" stroke-width="0.5">explosive H</text>
<text x="1397.5" y="652" font-size="36" text-anchor="middle" fill="#DCE7F3" stroke="#DCE7F3" stroke-width="0.5">burning?)</text>
<text x="1617" y="795.6" font-size="36" fill="#8F1B08" textLength="165" stroke="#8F1B08" stroke-width="0.5">Fe/Ni core</text>
<text x="1487.8" y="839.7" font-size="36" fill="#8F1B08" textLength="424" stroke="#8F1B08" stroke-width="0.5">(<tspan font-family='"Liberation Serif", "DejaVu Serif", serif' font-style='italic' font-size='42'>&#945;</tspan> freezeout, <tspan font-family='"Liberation Serif", "DejaVu Serif", serif' font-style='italic' font-size='40'>&#957;</tspan> reactions?)</text>
</svg>
</body></html>
